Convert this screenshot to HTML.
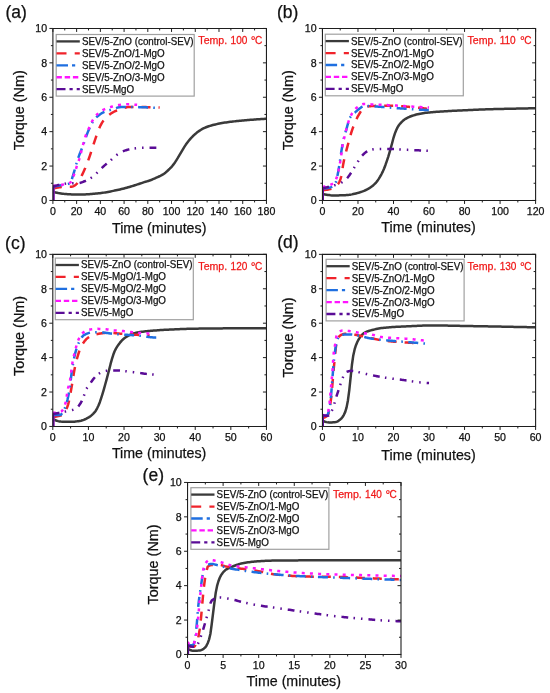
<!DOCTYPE html>
<html><head><meta charset="utf-8"><style>
html,body{margin:0;padding:0;background:#fff;}
svg{display:block;}
text{font-family:'Liberation Sans', Arial, sans-serif;fill:#111;stroke:#111;stroke-width:0.25px;}
.t{font-size:17.5px;}
.k{font-size:10.6px;}
.ax{font-size:14.8px;}
.ay{font-size:13.9px;}
.lg{font-size:10.1px;}
.tp{font-size:10.6px;fill:#f01818;stroke:#f01818;}
</style></head><body>
<svg width="550" height="693" viewBox="0 0 550 693">
<rect width="550" height="693" fill="#fff"/>
<text x="5.4" y="18" font-size="17.5" class="t">(a)</text>
<clipPath id="ca"><rect x="52.9" y="28.45" width="213.55" height="172"/></clipPath>
<g clip-path="url(#ca)" fill="none" stroke-width="2.5">
<path d="M52.9,191.85 L54.24,192.16 L55.59,192.45 L56.93,192.74 L58.27,193.01 L59.62,193.25 L60.96,193.47 L62.3,193.66 L63.64,193.81 L64.99,193.93 L66.33,194.03 L67.67,194.13 L69.02,194.22 L70.36,194.31 L71.7,194.39 L73.05,194.45 L74.39,194.51 L75.73,194.55 L77.08,194.58 L78.42,194.6 L79.76,194.6 L81.1,194.57 L82.45,194.53 L83.79,194.47 L85.13,194.4 L86.48,194.31 L87.82,194.23 L89.16,194.14 L90.51,194.06 L91.85,193.96 L93.19,193.86 L94.54,193.74 L95.88,193.61 L97.22,193.48 L98.56,193.33 L99.91,193.18 L101.25,193.02 L102.59,192.83 L103.94,192.63 L105.28,192.41 L106.62,192.17 L107.97,191.92 L109.31,191.66 L110.65,191.4 L112,191.14 L113.34,190.87 L114.68,190.6 L116.02,190.31 L117.37,190.02 L118.71,189.72 L120.05,189.41 L121.4,189.09 L122.74,188.76 L124.08,188.42 L125.43,188.07 L126.77,187.7 L128.11,187.32 L129.46,186.93 L130.8,186.53 L132.14,186.13 L133.48,185.72 L134.83,185.3 L136.17,184.87 L137.51,184.43 L138.86,183.97 L140.2,183.52 L141.54,183.06 L142.89,182.61 L144.23,182.17 L145.57,181.74 L146.92,181.34 L148.26,180.93 L149.6,180.49 L150.94,180 L152.29,179.47 L153.63,178.9 L154.97,178.3 L156.32,177.7 L157.66,177.1 L159,176.5 L160.35,175.88 L161.69,175.2 L163.03,174.43 L164.38,173.52 L165.72,172.44 L167.06,171.25 L168.41,169.99 L169.75,168.7 L171.09,167.32 L172.43,165.8 L173.78,164.11 L175.12,162.17 L176.46,160.08 L177.81,157.94 L179.15,155.69 L180.49,153.37 L181.84,151.1 L183.18,148.86 L184.52,146.65 L185.87,144.59 L187.21,142.73 L188.55,141.01 L189.89,139.41 L191.24,137.92 L192.58,136.51 L193.92,135.18 L195.27,133.97 L196.61,132.86 L197.95,131.83 L199.3,130.86 L200.64,129.97 L201.98,129.18 L203.33,128.48 L204.67,127.84 L206.01,127.26 L207.35,126.73 L208.7,126.26 L210.04,125.83 L211.38,125.44 L212.73,125.08 L214.07,124.74 L215.41,124.42 L216.76,124.11 L218.1,123.81 L219.44,123.53 L220.79,123.26 L222.13,123.02 L223.47,122.8 L224.81,122.59 L226.16,122.4 L227.5,122.21 L228.84,122.03 L230.19,121.86 L231.53,121.69 L232.87,121.53 L234.22,121.37 L235.56,121.23 L236.9,121.08 L238.25,120.95 L239.59,120.81 L240.93,120.68 L242.27,120.55 L243.62,120.42 L244.96,120.3 L246.3,120.18 L247.65,120.06 L248.99,119.95 L250.33,119.84 L251.68,119.73 L253.02,119.63 L254.36,119.53 L255.71,119.43 L257.05,119.34 L258.39,119.24 L259.73,119.15 L261.08,119.07 L262.42,118.98 L263.76,118.9 L265.11,118.82 L266.45,118.75" stroke="#3a3a3a" stroke-linejoin="round"/>
<path d="M53.1,202.17 V188.41" stroke="#f0232b" stroke-width="2.6"/>
<path d="M52.9,188.41 L53.57,188.28 L54.24,188.14 L54.91,188.02 L55.59,187.9 L56.26,187.78 L56.93,187.66 L57.6,187.56 L58.27,187.45 L58.94,187.36 L59.62,187.27 L60.29,187.19 L60.96,187.11 L61.63,187.05 L62.3,186.99 L62.97,186.94 L63.64,186.9 L64.32,186.87 L64.99,186.84 L65.66,186.82 L66.33,186.81 L67,186.8 L67.67,186.79 L68.35,186.78 L69.02,186.77 L69.69,186.76 L70.36,186.74 L71.03,186.72 L71.7,186.69 L72.37,186.58 L73.05,186.36 L73.72,186.04 L74.39,185.63 L75.06,185.17 L75.73,184.66 L76.4,184.12 L77.08,183.53 L77.75,182.76 L78.42,181.82 L79.09,180.74 L79.76,179.55 L80.43,178.27 L81.1,176.92 L81.78,175.53 L82.45,174.13 L83.12,172.73 L83.79,171.32 L84.46,169.83 L85.13,168.26 L85.81,166.63 L86.48,164.93 L87.15,163.18 L87.82,161.4 L88.49,159.59 L89.16,157.75 L89.83,155.83 L90.51,153.81 L91.18,151.72 L91.85,149.59 L92.52,147.45 L93.19,145.33 L93.86,143.27 L94.54,141.29 L95.21,139.38 L95.88,137.46 L96.55,135.53 L97.22,133.61 L97.89,131.75 L98.56,129.95 L99.24,128.26 L99.91,126.7 L100.58,125.29 L101.25,124.06 L101.92,122.91 L102.59,121.84 L103.27,120.84 L103.94,119.92 L104.61,119.08 L105.28,118.32 L105.95,117.64 L106.62,116.99 L107.29,116.38 L107.97,115.8 L108.64,115.25 L109.31,114.73 L109.98,114.23 L110.65,113.76 L111.32,113.31 L112,112.89 L112.67,112.49 L113.34,112.11 L114.01,111.75 L114.68,111.42 L115.35,111.1 L116.02,110.81 L116.7,110.53 L117.37,110.28 L118.04,110.03 L118.71,109.8 L119.38,109.58 L120.05,109.36 L120.73,109.13 L121.4,108.9 L122.07,108.66 L122.74,108.43 L123.41,108.21 L124.08,107.99 L124.75,107.78 L125.43,107.59 L126.1,107.41 L126.77,107.26 L127.44,107.13 L128.11,107.02 L128.78,106.94 L129.46,106.89 L130.13,106.88 L130.8,106.88 L131.47,106.88 L132.14,106.88 L132.81,106.88 L133.48,106.88 L134.16,106.88 L134.83,106.88 L135.5,106.88 L136.17,106.88 L136.84,106.88 L137.51,106.88 L138.19,106.89 L138.86,106.89 L139.53,106.9 L140.2,106.92 L140.87,106.93 L141.54,106.95 L142.21,106.97 L142.89,106.99 L143.56,107.01 L144.23,107.04 L144.9,107.06 L145.57,107.08 L146.24,107.11 L146.92,107.13 L147.59,107.16 L148.26,107.18 L148.93,107.2 L149.6,107.22 L150.27,107.24 L150.94,107.26 L151.62,107.29 L152.29,107.31 L152.96,107.33 L153.63,107.35 L154.3,107.38 L154.97,107.4 L155.65,107.42 L156.32,107.45 L156.99,107.47 L157.66,107.49 L158.33,107.52 L159,107.54 L159.67,107.57" stroke="#f0232b" stroke-dasharray="9 8" stroke-linejoin="round"/>
<path d="M53.1,202.17 V186.69" stroke="#1f6fe0" stroke-width="2.6"/>
<path d="M52.9,186.69 L53.57,186.58 L54.24,186.47 L54.91,186.36 L55.59,186.25 L56.26,186.13 L56.93,186.01 L57.6,185.89 L58.27,185.77 L58.94,185.64 L59.62,185.51 L60.29,185.38 L60.96,185.25 L61.63,185.12 L62.3,184.99 L62.97,184.86 L63.64,184.75 L64.32,184.66 L64.99,184.56 L65.66,184.47 L66.33,184.36 L67,184.24 L67.67,184.09 L68.35,183.91 L69.02,183.7 L69.69,183.44 L70.36,183.03 L71.03,181.73 L71.7,179.72 L72.37,177.46 L73.05,175.38 L73.72,173.24 L74.39,170.95 L75.06,168.56 L75.73,166.14 L76.4,163.77 L77.08,161.49 L77.75,159.37 L78.42,157.42 L79.09,155.58 L79.76,153.81 L80.43,152.09 L81.1,150.4 L81.78,148.69 L82.45,146.97 L83.12,145.18 L83.79,143.31 L84.46,141.37 L85.13,139.4 L85.81,137.45 L86.48,135.56 L87.15,133.76 L87.82,132.1 L88.49,130.58 L89.16,129.06 L89.83,127.57 L90.51,126.12 L91.18,124.72 L91.85,123.4 L92.52,122.17 L93.19,121.05 L93.86,120.05 L94.54,119.19 L95.21,118.47 L95.88,117.79 L96.55,117.15 L97.22,116.54 L97.89,115.97 L98.56,115.43 L99.24,114.91 L99.91,114.43 L100.58,113.98 L101.25,113.55 L101.92,113.15 L102.59,112.78 L103.27,112.43 L103.94,112.11 L104.61,111.81 L105.28,111.53 L105.95,111.28 L106.62,111.04 L107.29,110.83 L107.97,110.63 L108.64,110.44 L109.31,110.26 L109.98,110.08 L110.65,109.91 L111.32,109.72 L112,109.54 L112.67,109.34 L113.34,109.12 L114.01,108.87 L114.68,108.6 L115.35,108.33 L116.02,108.07 L116.7,107.82 L117.37,107.6 L118.04,107.42 L118.71,107.29 L119.38,107.21 L120.05,107.16 L120.73,107.11 L121.4,107.07 L122.07,107.03 L122.74,106.99 L123.41,106.96 L124.08,106.93 L124.75,106.91 L125.43,106.9 L126.1,106.89 L126.77,106.88 L127.44,106.88 L128.11,106.89 L128.78,106.89 L129.46,106.9 L130.13,106.91 L130.8,106.92 L131.47,106.93 L132.14,106.94 L132.81,106.96 L133.48,106.97 L134.16,106.99 L134.83,107.01 L135.5,107.02 L136.17,107.04 L136.84,107.06 L137.51,107.08 L138.19,107.1 L138.86,107.13 L139.53,107.15 L140.2,107.17 L140.87,107.19 L141.54,107.21 L142.21,107.23 L142.89,107.25 L143.56,107.27 L144.23,107.29 L144.9,107.32 L145.57,107.34 L146.24,107.37 L146.92,107.39 L147.59,107.42 L148.26,107.45 L148.93,107.47 L149.6,107.5 L150.27,107.53 L150.94,107.57 L151.62,107.6 L152.29,107.63 L152.96,107.66 L153.63,107.7 L154.3,107.74 L154.97,107.77 L155.65,107.81 L156.32,107.85 L156.99,107.89 L157.66,107.93 L158.33,107.98 L159,108.03 L159.67,108.09" stroke="#1f6fe0" stroke-dasharray="10 5.2 1.6 5.4" stroke-linejoin="round"/>
<path d="M53.1,202.17 V185.83" stroke="#ff14ff" stroke-width="2.6"/>
<path d="M52.9,185.83 L53.43,185.81 L53.96,185.79 L54.49,185.76 L55.02,185.72 L55.55,185.68 L56.08,185.63 L56.61,185.58 L57.14,185.52 L57.67,185.45 L58.2,185.38 L58.73,185.31 L59.26,185.23 L59.79,185.15 L60.32,185.07 L60.85,184.99 L61.38,184.9 L61.91,184.81 L62.44,184.72 L62.97,184.63 L63.5,184.54 L64.03,184.45 L64.55,184.36 L65.08,184.26 L65.61,184.16 L66.14,184.04 L66.67,183.92 L67.2,183.77 L67.73,183.62 L68.26,183.44 L68.79,183.24 L69.32,183.01 L69.85,182.76 L70.38,182.46 L70.91,181.87 L71.44,180.98 L71.97,179.86 L72.5,178.59 L73.03,177.24 L73.56,175.88 L74.09,174.54 L74.62,173.03 L75.15,171.4 L75.68,169.71 L76.21,168.02 L76.74,166.41 L77.27,164.87 L77.8,163.37 L78.33,161.86 L78.86,160.3 L79.39,158.64 L79.92,156.83 L80.45,154.83 L80.98,152.71 L81.51,150.55 L82.04,148.42 L82.57,146.41 L83.1,144.47 L83.63,142.53 L84.16,140.61 L84.69,138.77 L85.22,137.03 L85.75,135.45 L86.28,134.04 L86.81,132.77 L87.34,131.61 L87.86,130.51 L88.39,129.42 L88.92,128.3 L89.45,127.12 L89.98,125.9 L90.51,124.67 L91.04,123.46 L91.57,122.31 L92.1,121.25 L92.63,120.32 L93.16,119.47 L93.69,118.67 L94.22,117.9 L94.75,117.18 L95.28,116.49 L95.81,115.84 L96.34,115.24 L96.87,114.67 L97.4,114.15 L97.93,113.66 L98.46,113.19 L98.99,112.74 L99.52,112.31 L100.05,111.9 L100.58,111.51 L101.11,111.13 L101.64,110.77 L102.17,110.44 L102.7,110.12 L103.23,109.82 L103.76,109.54 L104.29,109.28 L104.82,109.04 L105.35,108.81 L105.88,108.59 L106.41,108.38 L106.94,108.18 L107.47,107.99 L108,107.81 L108.53,107.63 L109.06,107.46 L109.59,107.3 L110.12,107.14 L110.65,106.99 L111.17,106.84 L111.7,106.69 L112.23,106.54 L112.76,106.4 L113.29,106.25 L113.82,106.11 L114.35,105.98 L114.88,105.84 L115.41,105.71 L115.94,105.59 L116.47,105.47 L117,105.36 L117.53,105.26 L118.06,105.16 L118.59,105.08 L119.12,105 L119.65,104.93 L120.18,104.86 L120.71,104.8 L121.24,104.73 L121.77,104.66 L122.3,104.6 L122.83,104.54 L123.36,104.49 L123.89,104.44 L124.42,104.4 L124.95,104.36 L125.48,104.33 L126.01,104.31 L126.54,104.3 L127.07,104.3 L127.6,104.31 L128.13,104.32 L128.66,104.33 L129.19,104.35 L129.72,104.37 L130.25,104.4 L130.78,104.43 L131.31,104.46 L131.84,104.49 L132.37,104.52 L132.9,104.55 L133.43,104.58 L133.95,104.61 L134.48,104.64 L135.01,104.67 L135.54,104.71 L136.07,104.74 L136.6,104.78 L137.13,104.82" stroke="#ff14ff" stroke-dasharray="3 5.2" stroke-linejoin="round"/>
<path d="M53.1,202.17 V186.69" stroke="#5a0c96" stroke-width="2.6"/>
<path d="M52.9,186.69 L53.57,186.45 L54.24,186.22 L54.91,186 L55.59,185.78 L56.26,185.57 L56.93,185.37 L57.6,185.19 L58.27,185.01 L58.94,184.85 L59.62,184.7 L60.29,184.58 L60.96,184.45 L61.63,184.32 L62.3,184.19 L62.97,184.07 L63.64,183.94 L64.32,183.83 L64.99,183.72 L65.66,183.62 L66.33,183.52 L67,183.44 L67.67,183.37 L68.35,183.32 L69.02,183.28 L69.69,183.26 L70.36,183.25 L71.03,183.25 L71.7,183.25 L72.37,183.25 L73.05,183.25 L73.72,183.25 L74.39,183.25 L75.06,183.25 L75.73,183.25 L76.4,183.25 L77.08,183.25 L77.75,183.24 L78.42,183.19 L79.09,183.09 L79.76,182.94 L80.43,182.76 L81.1,182.55 L81.78,182.31 L82.45,182.06 L83.12,181.8 L83.79,181.53 L84.46,181.27 L85.13,181.02 L85.81,180.73 L86.48,180.42 L87.15,180.09 L87.82,179.73 L88.49,179.36 L89.16,178.96 L89.83,178.55 L90.51,178.13 L91.18,177.7 L91.85,177.23 L92.52,176.74 L93.19,176.21 L93.86,175.66 L94.54,175.08 L95.21,174.49 L95.88,173.89 L96.55,173.27 L97.22,172.65 L97.89,172.03 L98.56,171.4 L99.24,170.74 L99.91,170.05 L100.58,169.35 L101.25,168.64 L101.92,167.94 L102.59,167.25 L103.27,166.6 L103.94,165.99 L104.61,165.42 L105.28,164.87 L105.95,164.34 L106.62,163.82 L107.29,163.3 L107.97,162.78 L108.64,162.24 L109.31,161.67 L109.98,161.07 L110.65,160.42 L111.32,159.75 L112,159.08 L112.67,158.44 L113.34,157.83 L114.01,157.23 L114.68,156.63 L115.35,156.05 L116.02,155.5 L116.7,154.97 L117.37,154.49 L118.04,154.04 L118.71,153.59 L119.38,153.15 L120.05,152.74 L120.73,152.35 L121.4,151.99 L122.07,151.66 L122.74,151.37 L123.41,151.11 L124.08,150.87 L124.75,150.63 L125.43,150.41 L126.1,150.2 L126.77,150 L127.44,149.81 L128.11,149.63 L128.78,149.46 L129.46,149.31 L130.13,149.16 L130.8,149.03 L131.47,148.92 L132.14,148.82 L132.81,148.72 L133.48,148.62 L134.16,148.53 L134.83,148.44 L135.5,148.35 L136.17,148.27 L136.84,148.19 L137.51,148.12 L138.19,148.05 L138.86,147.99 L139.53,147.94 L140.2,147.9 L140.87,147.86 L141.54,147.83 L142.21,147.82 L142.89,147.8 L143.56,147.79 L144.23,147.78 L144.9,147.76 L145.57,147.75 L146.24,147.74 L146.92,147.73 L147.59,147.72 L148.26,147.71 L148.93,147.7 L149.6,147.69 L150.27,147.69 L150.94,147.68 L151.62,147.67 L152.29,147.67 L152.96,147.66 L153.63,147.66 L154.3,147.66 L154.97,147.65 L155.65,147.65 L156.32,147.65 L156.99,147.65 L157.66,147.65 L158.33,147.65 L159,147.65 L159.67,147.65" stroke="#5a0c96" stroke-dasharray="6.8 5.3 1.5 6 1.5 6" stroke-linejoin="round"/>
</g>
<g stroke="#1e1e1e" stroke-width="1.1" fill="none">
<path d="M52.9,28.45 H266.45 V200.45 H52.9 Z"/>
<path stroke-width="1.0" d="M52.9,200.45 v3.5 M52.9,28.45 v3.5 M64.76,200.45 v2 M64.76,28.45 v2 M76.63,200.45 v3.5 M76.63,28.45 v3.5 M88.49,200.45 v2 M88.49,28.45 v2 M100.36,200.45 v3.5 M100.36,28.45 v3.5 M112.22,200.45 v2 M112.22,28.45 v2 M124.08,200.45 v3.5 M124.08,28.45 v3.5 M135.95,200.45 v2 M135.95,28.45 v2 M147.81,200.45 v3.5 M147.81,28.45 v3.5 M159.67,200.45 v2 M159.67,28.45 v2 M171.54,200.45 v3.5 M171.54,28.45 v3.5 M183.4,200.45 v2 M183.4,28.45 v2 M195.27,200.45 v3.5 M195.27,28.45 v3.5 M207.13,200.45 v2 M207.13,28.45 v2 M218.99,200.45 v3.5 M218.99,28.45 v3.5 M230.86,200.45 v2 M230.86,28.45 v2 M242.72,200.45 v3.5 M242.72,28.45 v3.5 M254.59,200.45 v2 M254.59,28.45 v2 M266.45,200.45 v3.5 M266.45,28.45 v3.5 M52.9,200.45 h-3.5 M266.45,200.45 h-3.5 M52.9,183.25 h-2 M266.45,183.25 h-2 M52.9,166.05 h-3.5 M266.45,166.05 h-3.5 M52.9,148.85 h-2 M266.45,148.85 h-2 M52.9,131.65 h-3.5 M266.45,131.65 h-3.5 M52.9,114.45 h-2 M266.45,114.45 h-2 M52.9,97.25 h-3.5 M266.45,97.25 h-3.5 M52.9,80.05 h-2 M266.45,80.05 h-2 M52.9,62.85 h-3.5 M266.45,62.85 h-3.5 M52.9,45.65 h-2 M266.45,45.65 h-2 M52.9,28.45 h-3.5 M266.45,28.45 h-3.5"/>
</g>
<text x="52.9" y="214.75" class="k" text-anchor="middle">0</text>
<text x="76.63" y="214.75" class="k" text-anchor="middle">20</text>
<text x="100.36" y="214.75" class="k" text-anchor="middle">40</text>
<text x="124.08" y="214.75" class="k" text-anchor="middle">60</text>
<text x="147.81" y="214.75" class="k" text-anchor="middle">80</text>
<text x="171.54" y="214.75" class="k" text-anchor="middle">100</text>
<text x="195.27" y="214.75" class="k" text-anchor="middle">120</text>
<text x="218.99" y="214.75" class="k" text-anchor="middle">140</text>
<text x="242.72" y="214.75" class="k" text-anchor="middle">160</text>
<text x="266.45" y="214.75" class="k" text-anchor="middle">180</text>
<text x="47.1" y="204.25" class="k" text-anchor="end">0</text>
<text x="47.1" y="169.85" class="k" text-anchor="end">2</text>
<text x="47.1" y="135.45" class="k" text-anchor="end">4</text>
<text x="47.1" y="101.05" class="k" text-anchor="end">6</text>
<text x="47.1" y="66.65" class="k" text-anchor="end">8</text>
<text x="47.1" y="32.25" class="k" text-anchor="end">10</text>
<text x="159.17" y="232.5" class="ax" text-anchor="middle" textLength="94.4" lengthAdjust="spacingAndGlyphs">Time (minutes)</text>
<text transform="translate(23.7,110.2) rotate(-90)" class="ay" text-anchor="middle" textLength="80" lengthAdjust="spacingAndGlyphs">Torque (Nm)</text>
<rect x="56.2" y="34.5" width="138" height="61.6" fill="#fff" stroke="#a0a0a0" stroke-width="1.2"/>
<path d="M56.5,41.4 H79.8" stroke="#3a3a3a" stroke-width="2.3"/>
<text x="81.9" y="44.85" class="lg" textLength="111.64" lengthAdjust="spacingAndGlyphs">SEV/5-ZnO (control-SEV)</text>
<path d="M56.5,53.35 H79.8" stroke="#f0232b" stroke-width="2.3" stroke-dasharray="10 8.2"/>
<text x="81.9" y="56.8" class="lg" textLength="82.78" lengthAdjust="spacingAndGlyphs">SEV/5-ZnO/1-MgO</text>
<path d="M56.5,65.3 H79.8" stroke="#1f6fe0" stroke-width="2.3" stroke-dasharray="11.5 4 3.2 6"/>
<text x="81.9" y="68.75" class="lg" textLength="82.78" lengthAdjust="spacingAndGlyphs">SEV/5-ZnO/2-MgO</text>
<path d="M56.5,77.25 H79.8" stroke="#ff14ff" stroke-width="2.3" stroke-dasharray="5.4 2.8"/>
<text x="81.9" y="80.7" class="lg" textLength="82.78" lengthAdjust="spacingAndGlyphs">SEV/5-ZnO/3-MgO</text>
<path d="M56.5,89.2 H79.8" stroke="#5a0c96" stroke-width="2.3" stroke-dasharray="9 4 3.2 4 3.6 4"/>
<text x="81.9" y="92.65" class="lg" textLength="52.28" lengthAdjust="spacingAndGlyphs">SEV/5-MgO</text>
<text x="198.35" y="44.35" class="tp">Temp.</text><g transform="translate(266.45,0) scale(0.95,1) translate(-266.45,0)"><text y="44.35" class="tp"><tspan x="228.65">100</tspan><tspan x="250.05" dy="0.9" style="font-size:12.5px">°</tspan><tspan x="254.45" dy="-0.9">C</tspan></text></g>
<text x="277" y="18.2" font-size="17.5" class="t">(b)</text>
<clipPath id="cb"><rect x="322.45" y="28.45" width="213.15" height="172"/></clipPath>
<g clip-path="url(#cb)" fill="none" stroke-width="2.5">
<path d="M322.45,193.91 L323.79,194.19 L325.13,194.45 L326.47,194.7 L327.81,194.92 L329.15,195.11 L330.49,195.27 L331.83,195.38 L333.17,195.45 L334.52,195.46 L335.86,195.45 L337.2,195.43 L338.54,195.41 L339.88,195.37 L341.22,195.32 L342.56,195.26 L343.9,195.2 L345.24,195.13 L346.58,195.05 L347.92,194.96 L349.26,194.84 L350.6,194.64 L351.94,194.37 L353.28,194.06 L354.62,193.73 L355.96,193.41 L357.3,193.07 L358.65,192.69 L359.99,192.28 L361.33,191.83 L362.67,191.35 L364.01,190.82 L365.35,190.25 L366.69,189.62 L368.03,188.92 L369.37,188.16 L370.71,187.3 L372.05,186.32 L373.39,185.21 L374.73,183.95 L376.07,182.53 L377.41,180.86 L378.75,178.91 L380.09,176.7 L381.43,174.28 L382.78,171.63 L384.12,168.49 L385.46,164.94 L386.8,161.11 L388.14,157.06 L389.48,152.6 L390.82,147.92 L392.16,142.97 L393.5,137.8 L394.84,133.67 L396.18,130.23 L397.52,127.37 L398.86,125.27 L400.2,123.56 L401.54,122.08 L402.88,120.8 L404.22,119.71 L405.57,118.8 L406.91,118.04 L408.25,117.37 L409.59,116.78 L410.93,116.25 L412.27,115.77 L413.61,115.33 L414.95,114.93 L416.29,114.55 L417.63,114.22 L418.97,113.92 L420.31,113.67 L421.65,113.43 L422.99,113.21 L424.33,113.01 L425.67,112.82 L427.01,112.66 L428.35,112.52 L429.7,112.39 L431.04,112.26 L432.38,112.15 L433.72,112.04 L435.06,111.93 L436.4,111.83 L437.74,111.74 L439.08,111.65 L440.42,111.56 L441.76,111.48 L443.1,111.39 L444.44,111.31 L445.78,111.23 L447.12,111.15 L448.46,111.07 L449.8,111 L451.14,110.92 L452.48,110.85 L453.83,110.78 L455.17,110.71 L456.51,110.65 L457.85,110.58 L459.19,110.52 L460.53,110.46 L461.87,110.39 L463.21,110.33 L464.55,110.27 L465.89,110.21 L467.23,110.15 L468.57,110.09 L469.91,110.03 L471.25,109.97 L472.59,109.9 L473.93,109.84 L475.27,109.78 L476.62,109.73 L477.96,109.67 L479.3,109.61 L480.64,109.56 L481.98,109.5 L483.32,109.45 L484.66,109.4 L486,109.35 L487.34,109.31 L488.68,109.27 L490.02,109.23 L491.36,109.19 L492.7,109.15 L494.04,109.12 L495.38,109.08 L496.72,109.05 L498.06,109.02 L499.4,108.99 L500.75,108.96 L502.09,108.92 L503.43,108.89 L504.77,108.87 L506.11,108.84 L507.45,108.81 L508.79,108.78 L510.13,108.75 L511.47,108.72 L512.81,108.69 L514.15,108.66 L515.49,108.63 L516.83,108.61 L518.17,108.58 L519.51,108.55 L520.85,108.53 L522.19,108.5 L523.53,108.47 L524.88,108.45 L526.22,108.42 L527.56,108.4 L528.9,108.37 L530.24,108.35 L531.58,108.33 L532.92,108.3 L534.26,108.28 L535.6,108.26" stroke="#3a3a3a" stroke-linejoin="round"/>
<path d="M322.65,202.17 V190.13" stroke="#f0232b" stroke-width="2.6"/>
<path d="M322.45,190.13 L323.12,190.12 L323.79,190.09 L324.46,190.03 L325.13,189.97 L325.8,189.88 L326.47,189.78 L327.14,189.67 L327.81,189.54 L328.48,189.41 L329.15,189.27 L329.82,189.12 L330.49,188.95 L331.16,188.74 L331.83,188.49 L332.5,188.2 L333.17,187.86 L333.84,187.47 L334.52,187.04 L335.19,186.55 L335.86,186.02 L336.53,185.43 L337.2,184.79 L337.87,184.09 L338.54,183.34 L339.21,182.33 L339.88,180.81 L340.55,178.89 L341.22,176.33 L341.89,172.57 L342.56,168.27 L343.23,164.15 L343.9,160.8 L344.57,157.79 L345.24,154.95 L345.91,152.25 L346.58,149.65 L347.25,147.12 L347.92,144.63 L348.59,142.15 L349.26,139.7 L349.93,137.28 L350.6,134.94 L351.27,132.7 L351.94,130.57 L352.61,128.59 L353.28,126.77 L353.95,125.04 L354.62,123.38 L355.29,121.78 L355.96,120.26 L356.63,118.82 L357.3,117.46 L357.98,116.18 L358.65,114.99 L359.32,113.86 L359.99,112.75 L360.66,111.68 L361.33,110.7 L362,109.83 L362.67,109.14 L363.34,108.63 L364.01,108.2 L364.68,107.8 L365.35,107.44 L366.02,107.12 L366.69,106.84 L367.36,106.62 L368.03,106.46 L368.7,106.36 L369.37,106.29 L370.04,106.22 L370.71,106.16 L371.38,106.1 L372.05,106.05 L372.72,106 L373.39,105.96 L374.06,105.92 L374.73,105.9 L375.4,105.87 L376.07,105.86 L376.74,105.85 L377.41,105.85 L378.08,105.85 L378.75,105.85 L379.42,105.85 L380.09,105.85 L380.76,105.85 L381.43,105.85 L382.11,105.85 L382.78,105.85 L383.45,105.85 L384.12,105.85 L384.79,105.85 L385.46,105.85 L386.13,105.85 L386.8,105.85 L387.47,105.85 L388.14,105.85 L388.81,105.85 L389.48,105.85 L390.15,105.85 L390.82,105.85 L391.49,105.85 L392.16,105.85 L392.83,105.85 L393.5,105.85 L394.17,105.86 L394.84,105.87 L395.51,105.88 L396.18,105.9 L396.85,105.92 L397.52,105.95 L398.19,105.98 L398.86,106.02 L399.53,106.06 L400.2,106.1 L400.87,106.14 L401.54,106.19 L402.21,106.24 L402.88,106.3 L403.55,106.35 L404.22,106.41 L404.89,106.47 L405.57,106.53 L406.24,106.59 L406.91,106.65 L407.58,106.71 L408.25,106.78 L408.92,106.84 L409.59,106.91 L410.26,106.97 L410.93,107.04 L411.6,107.1 L412.27,107.17 L412.94,107.23 L413.61,107.29 L414.28,107.35 L414.95,107.41 L415.62,107.47 L416.29,107.53 L416.96,107.59 L417.63,107.66 L418.3,107.73 L418.97,107.79 L419.64,107.86 L420.31,107.93 L420.98,108.01 L421.65,108.08 L422.32,108.15 L422.99,108.23 L423.66,108.3 L424.33,108.38 L425,108.46 L425.67,108.54 L426.34,108.62 L427.01,108.7 L427.68,108.78 L428.35,108.86 L429.02,108.95" stroke="#f0232b" stroke-dasharray="9 8" stroke-linejoin="round"/>
<path d="M322.65,202.17 V188.41" stroke="#1f6fe0" stroke-width="2.6"/>
<path d="M322.45,188.41 L323.12,188.4 L323.79,188.38 L324.46,188.34 L325.13,188.29 L325.8,188.22 L326.47,188.14 L327.14,188.05 L327.81,187.94 L328.48,187.83 L329.15,187.7 L329.82,187.57 L330.49,187.39 L331.16,187.11 L331.83,186.72 L332.5,186.23 L333.17,185.63 L333.84,184.92 L334.52,184.11 L335.19,183.18 L335.86,182.05 L336.53,179.94 L337.2,176.97 L337.87,173.49 L338.54,169.9 L339.21,166.01 L339.88,161.47 L340.55,156.71 L341.22,152.2 L341.89,148.19 L342.56,144.36 L343.23,140.87 L343.9,137.91 L344.57,135.34 L345.24,133.01 L345.91,130.79 L346.58,128.56 L347.25,126.17 L347.92,123.72 L348.59,121.39 L349.26,119.35 L349.93,117.77 L350.6,116.71 L351.27,115.83 L351.94,115.08 L352.61,114.41 L353.28,113.82 L353.95,113.27 L354.62,112.73 L355.29,112.18 L355.96,111.59 L356.63,110.98 L357.3,110.39 L357.98,109.81 L358.65,109.26 L359.32,108.74 L359.99,108.26 L360.66,107.76 L361.33,107.23 L362,106.74 L362.67,106.32 L363.34,106.01 L364.01,105.86 L364.68,105.85 L365.35,105.86 L366.02,105.87 L366.69,105.89 L367.36,105.92 L368.03,105.95 L368.7,105.98 L369.37,106.02 L370.04,106.06 L370.71,106.11 L371.38,106.15 L372.05,106.2 L372.72,106.25 L373.39,106.3 L374.06,106.36 L374.73,106.41 L375.4,106.46 L376.07,106.51 L376.74,106.57 L377.41,106.62 L378.08,106.66 L378.75,106.71 L379.42,106.75 L380.09,106.8 L380.76,106.85 L381.43,106.9 L382.11,106.94 L382.78,106.99 L383.45,107.04 L384.12,107.1 L384.79,107.15 L385.46,107.2 L386.13,107.25 L386.8,107.31 L387.47,107.36 L388.14,107.42 L388.81,107.47 L389.48,107.53 L390.15,107.58 L390.82,107.64 L391.49,107.69 L392.16,107.75 L392.83,107.8 L393.5,107.86 L394.17,107.91 L394.84,107.97 L395.51,108.02 L396.18,108.07 L396.85,108.13 L397.52,108.18 L398.19,108.23 L398.86,108.28 L399.53,108.33 L400.2,108.38 L400.87,108.43 L401.54,108.48 L402.21,108.53 L402.88,108.58 L403.55,108.62 L404.22,108.67 L404.89,108.71 L405.57,108.76 L406.24,108.8 L406.91,108.84 L407.58,108.89 L408.25,108.93 L408.92,108.98 L409.59,109.02 L410.26,109.06 L410.93,109.1 L411.6,109.15 L412.27,109.19 L412.94,109.23 L413.61,109.27 L414.28,109.31 L414.95,109.36 L415.62,109.4 L416.29,109.44 L416.96,109.48 L417.63,109.52 L418.3,109.56 L418.97,109.6 L419.64,109.64 L420.31,109.67 L420.98,109.71 L421.65,109.75 L422.32,109.79 L422.99,109.83 L423.66,109.86 L424.33,109.9 L425,109.94 L425.67,109.97 L426.34,110.01 L427.01,110.05 L427.68,110.08 L428.35,110.12 L429.02,110.15" stroke="#1f6fe0" stroke-dasharray="10 5.2 1.6 5.4" stroke-linejoin="round"/>
<path d="M322.65,202.17 V186.86" stroke="#ff14ff" stroke-width="2.6"/>
<path d="M322.45,186.86 L323.12,186.79 L323.79,186.7 L324.46,186.58 L325.13,186.43 L325.8,186.27 L326.47,186.09 L327.14,185.9 L327.81,185.7 L328.48,185.49 L329.15,185.27 L329.82,185.04 L330.49,184.79 L331.16,184.5 L331.83,184.17 L332.5,183.79 L333.17,183.35 L333.84,182.84 L334.52,182.2 L335.19,181.15 L335.86,179.74 L336.53,178.06 L337.2,176.17 L337.87,173.7 L338.54,170.67 L339.21,167.33 L339.88,163.72 L340.55,159.62 L341.22,155.24 L341.89,150.52 L342.56,145.47 L343.23,141.77 L343.9,138.97 L344.57,136.46 L345.24,133.79 L345.91,130.99 L346.58,128.25 L347.25,125.76 L347.92,123.46 L348.59,121.31 L349.26,119.4 L349.93,117.75 L350.6,116.23 L351.27,114.85 L351.94,113.64 L352.61,112.58 L353.28,111.6 L353.95,110.67 L354.62,109.81 L355.29,109.03 L355.96,108.33 L356.63,107.74 L357.3,107.25 L357.98,106.78 L358.65,106.32 L359.32,105.88 L359.99,105.47 L360.66,105.08 L361.33,104.74 L362,104.45 L362.67,104.22 L363.34,104.06 L364.01,103.97 L364.68,103.96 L365.35,103.97 L366.02,104 L366.69,104.03 L367.36,104.07 L368.03,104.12 L368.7,104.17 L369.37,104.22 L370.04,104.27 L370.71,104.33 L371.38,104.38 L372.05,104.42 L372.72,104.46 L373.39,104.5 L374.06,104.53 L374.73,104.56 L375.4,104.59 L376.07,104.62 L376.74,104.65 L377.41,104.68 L378.08,104.71 L378.75,104.74 L379.42,104.76 L380.09,104.79 L380.76,104.82 L381.43,104.84 L382.11,104.87 L382.78,104.9 L383.45,104.92 L384.12,104.95 L384.79,104.98 L385.46,105.01 L386.13,105.03 L386.8,105.06 L387.47,105.09 L388.14,105.13 L388.81,105.16 L389.48,105.19 L390.15,105.23 L390.82,105.26 L391.49,105.3 L392.16,105.33 L392.83,105.37 L393.5,105.41 L394.17,105.45 L394.84,105.48 L395.51,105.52 L396.18,105.56 L396.85,105.6 L397.52,105.64 L398.19,105.69 L398.86,105.73 L399.53,105.77 L400.2,105.81 L400.87,105.85 L401.54,105.9 L402.21,105.94 L402.88,105.98 L403.55,106.03 L404.22,106.07 L404.89,106.11 L405.57,106.16 L406.24,106.2 L406.91,106.24 L407.58,106.29 L408.25,106.33 L408.92,106.37 L409.59,106.42 L410.26,106.46 L410.93,106.51 L411.6,106.55 L412.27,106.59 L412.94,106.63 L413.61,106.68 L414.28,106.72 L414.95,106.76 L415.62,106.8 L416.29,106.84 L416.96,106.89 L417.63,106.93 L418.3,106.97 L418.97,107.01 L419.64,107.05 L420.31,107.08 L420.98,107.12 L421.65,107.16 L422.32,107.2 L422.99,107.24 L423.66,107.27 L424.33,107.31 L425,107.35 L425.67,107.39 L426.34,107.42 L427.01,107.46 L427.68,107.5 L428.35,107.53 L429.02,107.57" stroke="#ff14ff" stroke-dasharray="3 5.2" stroke-linejoin="round"/>
<path d="M322.65,202.17 V188.41" stroke="#5a0c96" stroke-width="2.6"/>
<path d="M322.45,188.41 L323.12,188.25 L323.79,188.08 L324.46,187.91 L325.13,187.74 L325.8,187.57 L326.47,187.4 L327.14,187.22 L327.81,187.04 L328.48,186.86 L329.15,186.69 L329.82,186.51 L330.49,186.34 L331.16,186.17 L331.83,186.01 L332.5,185.84 L333.17,185.66 L333.84,185.48 L334.52,185.3 L335.19,185.11 L335.86,184.91 L336.53,184.69 L337.2,184.47 L337.87,184.23 L338.54,183.97 L339.21,183.69 L339.88,183.39 L340.55,183.07 L341.22,182.72 L341.89,182.34 L342.56,181.94 L343.23,181.5 L343.9,181.04 L344.57,180.55 L345.24,180.03 L345.91,179.47 L346.58,178.82 L347.25,178.07 L347.92,177.24 L348.59,176.35 L349.26,175.41 L349.93,174.45 L350.6,173.49 L351.27,172.51 L351.94,171.48 L352.61,170.39 L353.28,169.26 L353.95,168.11 L354.62,166.95 L355.29,165.81 L355.96,164.69 L356.63,163.62 L357.3,162.58 L357.98,161.51 L358.65,160.45 L359.32,159.4 L359.99,158.4 L360.66,157.45 L361.33,156.57 L362,155.8 L362.67,155.09 L363.34,154.41 L364.01,153.76 L364.68,153.15 L365.35,152.59 L366.02,152.1 L366.69,151.69 L367.36,151.37 L368.03,151.07 L368.7,150.79 L369.37,150.52 L370.04,150.26 L370.71,150.01 L371.38,149.79 L372.05,149.59 L372.72,149.41 L373.39,149.26 L374.06,149.15 L374.73,149.07 L375.4,149.03 L376.07,149.02 L376.74,149.02 L377.41,149.02 L378.08,149.02 L378.75,149.02 L379.42,149.02 L380.09,149.02 L380.76,149.02 L381.43,149.02 L382.11,149.02 L382.78,149.02 L383.45,149.02 L384.12,149.02 L384.79,149.02 L385.46,149.02 L386.13,149.02 L386.8,149.02 L387.47,149.02 L388.14,149.02 L388.81,149.02 L389.48,149.02 L390.15,149.02 L390.82,149.02 L391.49,149.02 L392.16,149.03 L392.83,149.03 L393.5,149.05 L394.17,149.07 L394.84,149.1 L395.51,149.13 L396.18,149.17 L396.85,149.21 L397.52,149.25 L398.19,149.29 L398.86,149.34 L399.53,149.38 L400.2,149.43 L400.87,149.48 L401.54,149.52 L402.21,149.57 L402.88,149.61 L403.55,149.65 L404.22,149.69 L404.89,149.72 L405.57,149.75 L406.24,149.78 L406.91,149.81 L407.58,149.85 L408.25,149.88 L408.92,149.91 L409.59,149.93 L410.26,149.96 L410.93,149.99 L411.6,150.02 L412.27,150.05 L412.94,150.08 L413.61,150.11 L414.28,150.14 L414.95,150.17 L415.62,150.2 L416.29,150.23 L416.96,150.26 L417.63,150.29 L418.3,150.32 L418.97,150.36 L419.64,150.39 L420.31,150.42 L420.98,150.46 L421.65,150.49 L422.32,150.53 L422.99,150.57 L423.66,150.6 L424.33,150.64 L425,150.68 L425.67,150.72 L426.34,150.76 L427.01,150.8 L427.68,150.83 L428.35,150.87 L429.02,150.91" stroke="#5a0c96" stroke-dasharray="6.8 5.3 1.5 6 1.5 6" stroke-linejoin="round"/>
</g>
<g stroke="#1e1e1e" stroke-width="1.1" fill="none">
<path d="M322.45,28.45 H535.6 V200.45 H322.45 Z"/>
<path stroke-width="1.0" d="M322.45,200.45 v3.5 M322.45,28.45 v3.5 M340.21,200.45 v2 M340.21,28.45 v2 M357.98,200.45 v3.5 M357.98,28.45 v3.5 M375.74,200.45 v2 M375.74,28.45 v2 M393.5,200.45 v3.5 M393.5,28.45 v3.5 M411.26,200.45 v2 M411.26,28.45 v2 M429.02,200.45 v3.5 M429.02,28.45 v3.5 M446.79,200.45 v2 M446.79,28.45 v2 M464.55,200.45 v3.5 M464.55,28.45 v3.5 M482.31,200.45 v2 M482.31,28.45 v2 M500.08,200.45 v3.5 M500.08,28.45 v3.5 M517.84,200.45 v2 M517.84,28.45 v2 M535.6,200.45 v3.5 M535.6,28.45 v3.5 M322.45,200.45 h-3.5 M535.6,200.45 h-3.5 M322.45,183.25 h-2 M535.6,183.25 h-2 M322.45,166.05 h-3.5 M535.6,166.05 h-3.5 M322.45,148.85 h-2 M535.6,148.85 h-2 M322.45,131.65 h-3.5 M535.6,131.65 h-3.5 M322.45,114.45 h-2 M535.6,114.45 h-2 M322.45,97.25 h-3.5 M535.6,97.25 h-3.5 M322.45,80.05 h-2 M535.6,80.05 h-2 M322.45,62.85 h-3.5 M535.6,62.85 h-3.5 M322.45,45.65 h-2 M535.6,45.65 h-2 M322.45,28.45 h-3.5 M535.6,28.45 h-3.5"/>
</g>
<text x="322.45" y="214.75" class="k" text-anchor="middle">0</text>
<text x="357.98" y="214.75" class="k" text-anchor="middle">20</text>
<text x="393.5" y="214.75" class="k" text-anchor="middle">40</text>
<text x="429.02" y="214.75" class="k" text-anchor="middle">60</text>
<text x="464.55" y="214.75" class="k" text-anchor="middle">80</text>
<text x="500.08" y="214.75" class="k" text-anchor="middle">100</text>
<text x="535.6" y="214.75" class="k" text-anchor="middle">120</text>
<text x="316.65" y="204.25" class="k" text-anchor="end">0</text>
<text x="316.65" y="169.85" class="k" text-anchor="end">2</text>
<text x="316.65" y="135.45" class="k" text-anchor="end">4</text>
<text x="316.65" y="101.05" class="k" text-anchor="end">6</text>
<text x="316.65" y="66.65" class="k" text-anchor="end">8</text>
<text x="316.65" y="32.25" class="k" text-anchor="end">10</text>
<text x="428.52" y="232.2" class="ax" text-anchor="middle" textLength="94.4" lengthAdjust="spacingAndGlyphs">Time (minutes)</text>
<text transform="translate(293.25,110.3) rotate(-90)" class="ay" text-anchor="middle" textLength="80" lengthAdjust="spacingAndGlyphs">Torque (Nm)</text>
<rect x="325.3" y="34.2" width="138" height="61.6" fill="#fff" stroke="#a0a0a0" stroke-width="1.2"/>
<path d="M325.6,41.1 H348.9" stroke="#3a3a3a" stroke-width="2.3"/>
<text x="351" y="44.55" class="lg" textLength="111.64" lengthAdjust="spacingAndGlyphs">SEV/5-ZnO (control-SEV)</text>
<path d="M325.6,53.05 H348.9" stroke="#f0232b" stroke-width="2.3" stroke-dasharray="10 8.2"/>
<text x="351" y="56.5" class="lg" textLength="82.78" lengthAdjust="spacingAndGlyphs">SEV/5-ZnO/1-MgO</text>
<path d="M325.6,65 H348.9" stroke="#1f6fe0" stroke-width="2.3" stroke-dasharray="11.5 4 3.2 6"/>
<text x="351" y="68.45" class="lg" textLength="82.78" lengthAdjust="spacingAndGlyphs">SEV/5-ZnO/2-MgO</text>
<path d="M325.6,76.95 H348.9" stroke="#ff14ff" stroke-width="2.3" stroke-dasharray="5.4 2.8"/>
<text x="351" y="80.4" class="lg" textLength="82.78" lengthAdjust="spacingAndGlyphs">SEV/5-ZnO/3-MgO</text>
<path d="M325.6,88.9 H348.9" stroke="#5a0c96" stroke-width="2.3" stroke-dasharray="9 4 3.2 4 3.6 4"/>
<text x="351" y="92.35" class="lg" textLength="52.28" lengthAdjust="spacingAndGlyphs">SEV/5-MgO</text>
<text x="467.5" y="44.35" class="tp">Temp.</text><g transform="translate(535.6,0) scale(0.95,1) translate(-535.6,0)"><text y="44.35" class="tp"><tspan x="497.8">110</tspan><tspan x="519.2" dy="0.9" style="font-size:12.5px">°</tspan><tspan x="523.6" dy="-0.9">C</tspan></text></g>
<text x="5.1" y="248.8" font-size="17.5" class="t">(c)</text>
<clipPath id="cc"><rect x="52.8" y="254.35" width="213.65" height="172.1"/></clipPath>
<g clip-path="url(#cc)" fill="none" stroke-width="2.5">
<path d="M52.8,419.22 L54.14,419.76 L55.49,420.28 L56.83,420.75 L58.17,421.14 L59.52,421.43 L60.86,421.6 L62.21,421.66 L63.55,421.7 L64.89,421.73 L66.24,421.76 L67.58,421.78 L68.92,421.8 L70.27,421.8 L71.61,421.8 L72.96,421.75 L74.3,421.65 L75.64,421.51 L76.99,421.34 L78.33,421.14 L79.67,420.93 L81.02,420.69 L82.36,420.33 L83.71,419.85 L85.05,419.27 L86.39,418.6 L87.74,417.88 L89.08,417.1 L90.42,416.19 L91.77,415.12 L93.11,413.87 L94.46,412.42 L95.8,410.63 L97.14,408.26 L98.49,405.45 L99.83,402.21 L101.17,398.21 L102.52,393.9 L103.86,389.32 L105.2,384.5 L106.55,379.56 L107.89,374.48 L109.24,369.31 L110.58,363.94 L111.92,359.11 L113.27,354.78 L114.61,351.29 L115.95,348.61 L117.3,346.37 L118.64,344.44 L119.99,342.68 L121.33,341.09 L122.67,339.71 L124.02,338.57 L125.36,337.57 L126.7,336.66 L128.05,335.85 L129.39,335.15 L130.74,334.54 L132.08,334.02 L133.42,333.55 L134.77,333.13 L136.11,332.77 L137.45,332.46 L138.8,332.22 L140.14,332.01 L141.48,331.82 L142.83,331.65 L144.17,331.5 L145.52,331.36 L146.86,331.22 L148.2,331.1 L149.55,330.98 L150.89,330.86 L152.23,330.74 L153.58,330.62 L154.92,330.51 L156.27,330.41 L157.61,330.31 L158.95,330.21 L160.3,330.12 L161.64,330.03 L162.98,329.94 L164.33,329.86 L165.67,329.79 L167.02,329.72 L168.36,329.65 L169.7,329.58 L171.05,329.51 L172.39,329.44 L173.73,329.38 L175.08,329.31 L176.42,329.25 L177.77,329.19 L179.11,329.13 L180.45,329.08 L181.8,329.02 L183.14,328.97 L184.48,328.93 L185.83,328.88 L187.17,328.84 L188.51,328.8 L189.86,328.77 L191.2,328.74 L192.55,328.71 L193.89,328.69 L195.23,328.67 L196.58,328.65 L197.92,328.63 L199.26,328.61 L200.61,328.59 L201.95,328.58 L203.3,328.56 L204.64,328.54 L205.98,328.53 L207.33,328.51 L208.67,328.49 L210.01,328.48 L211.36,328.47 L212.7,328.45 L214.05,328.44 L215.39,328.43 L216.73,328.42 L218.08,328.41 L219.42,328.4 L220.76,328.39 L222.11,328.38 L223.45,328.37 L224.79,328.37 L226.14,328.36 L227.48,328.36 L228.83,328.36 L230.17,328.35 L231.51,328.35 L232.86,328.35 L234.2,328.35 L235.54,328.35 L236.89,328.35 L238.23,328.35 L239.58,328.35 L240.92,328.35 L242.26,328.35 L243.61,328.35 L244.95,328.35 L246.29,328.35 L247.64,328.35 L248.98,328.35 L250.33,328.35 L251.67,328.35 L253.01,328.35 L254.36,328.35 L255.7,328.35 L257.04,328.35 L258.39,328.35 L259.73,328.35 L261.08,328.35 L262.42,328.35 L263.76,328.35 L265.11,328.35 L266.45,328.35" stroke="#3a3a3a" stroke-linejoin="round"/>
<path d="M53,428.17 V416.98" stroke="#f0232b" stroke-width="2.6"/>
<path d="M52.8,416.98 L53.41,416.94 L54.02,416.88 L54.63,416.8 L55.24,416.71 L55.85,416.6 L56.45,416.48 L57.06,416.36 L57.67,416.22 L58.28,416.09 L58.89,415.94 L59.5,415.8 L60.11,415.64 L60.72,415.46 L61.33,415.26 L61.94,415.01 L62.55,414.73 L63.16,414.39 L63.76,413.87 L64.37,413.11 L64.98,412.13 L65.59,410.95 L66.2,409.61 L66.81,408.13 L67.42,406.54 L68.03,404.81 L68.64,402.54 L69.25,399.79 L69.86,396.68 L70.47,393.37 L71.07,389.97 L71.68,386.63 L72.29,383.13 L72.9,379.3 L73.51,375.4 L74.12,371.66 L74.73,368.32 L75.34,365.45 L75.95,362.78 L76.56,360.29 L77.17,357.99 L77.78,355.86 L78.38,353.89 L78.99,352 L79.6,350.21 L80.21,348.58 L80.82,347.16 L81.43,346 L82.04,344.96 L82.65,343.97 L83.26,343.03 L83.87,342.15 L84.48,341.33 L85.08,340.57 L85.69,339.86 L86.3,339.22 L86.91,338.63 L87.52,338.11 L88.13,337.66 L88.74,337.26 L89.35,336.89 L89.96,336.54 L90.57,336.21 L91.18,335.9 L91.79,335.62 L92.39,335.35 L93,335.11 L93.61,334.9 L94.22,334.7 L94.83,334.54 L95.44,334.4 L96.05,334.27 L96.66,334.15 L97.27,334.03 L97.88,333.92 L98.49,333.81 L99.1,333.7 L99.7,333.6 L100.31,333.5 L100.92,333.4 L101.53,333.32 L102.14,333.23 L102.75,333.16 L103.36,333.09 L103.97,333.03 L104.58,332.97 L105.19,332.93 L105.8,332.89 L106.41,332.86 L107.01,332.84 L107.62,332.83 L108.23,332.83 L108.84,332.83 L109.45,332.84 L110.06,332.86 L110.67,332.88 L111.28,332.91 L111.89,332.94 L112.5,332.98 L113.11,333.02 L113.71,333.06 L114.32,333.11 L114.93,333.16 L115.54,333.21 L116.15,333.26 L116.76,333.32 L117.37,333.38 L117.98,333.44 L118.59,333.5 L119.2,333.56 L119.81,333.62 L120.42,333.68 L121.02,333.74 L121.63,333.8 L122.24,333.85 L122.85,333.91 L123.46,333.97 L124.07,334.02 L124.68,334.07 L125.29,334.12 L125.9,334.16 L126.51,334.2 L127.12,334.24 L127.73,334.28 L128.33,334.32 L128.94,334.36 L129.55,334.39 L130.16,334.43 L130.77,334.46 L131.38,334.5 L131.99,334.53 L132.6,334.57 L133.21,334.6 L133.82,334.64 L134.43,334.67 L135.04,334.71 L135.64,334.74 L136.25,334.78 L136.86,334.81 L137.47,334.85 L138.08,334.88 L138.69,334.92 L139.3,334.95 L139.91,334.99 L140.52,335.03 L141.13,335.06 L141.74,335.1 L142.34,335.14 L142.95,335.17 L143.56,335.21 L144.17,335.25 L144.78,335.28 L145.39,335.32 L146,335.36 L146.61,335.4 L147.22,335.43 L147.83,335.47 L148.44,335.51 L149.05,335.54 L149.65,335.58" stroke="#f0232b" stroke-dasharray="9 8" stroke-linejoin="round"/>
<path d="M53,428.17 V414.92" stroke="#1f6fe0" stroke-width="2.6"/>
<path d="M52.8,414.92 L53.47,414.96 L54.14,415 L54.82,415.03 L55.49,415.05 L56.16,415.07 L56.83,415.08 L57.5,415.08 L58.17,415.09 L58.85,415.09 L59.52,415.09 L60.19,415.06 L60.86,414.73 L61.53,414.08 L62.21,413.18 L62.88,412.08 L63.55,410.85 L64.22,409.55 L64.89,408.17 L65.57,406.47 L66.24,404.43 L66.91,402.04 L67.58,399.34 L68.25,396.33 L68.92,393.03 L69.6,389.45 L70.27,384.41 L70.94,378.3 L71.61,372.82 L72.28,368.5 L72.96,364.42 L73.63,360.62 L74.3,357.18 L74.97,354.14 L75.64,351.57 L76.31,349.32 L76.99,347.28 L77.66,345.42 L78.33,343.74 L79,342.24 L79.67,340.91 L80.35,339.71 L81.02,338.56 L81.69,337.5 L82.36,336.57 L83.03,335.81 L83.71,335.28 L84.38,334.91 L85.05,334.56 L85.72,334.23 L86.39,333.92 L87.06,333.63 L87.74,333.36 L88.41,333.13 L89.08,332.92 L89.75,332.73 L90.42,332.58 L91.1,332.46 L91.77,332.38 L92.44,332.33 L93.11,332.31 L93.78,332.31 L94.46,332.31 L95.13,332.31 L95.8,332.31 L96.47,332.31 L97.14,332.31 L97.81,332.31 L98.49,332.31 L99.16,332.31 L99.83,332.32 L100.5,332.34 L101.17,332.37 L101.85,332.41 L102.52,332.46 L103.19,332.52 L103.86,332.58 L104.53,332.65 L105.2,332.73 L105.88,332.82 L106.55,332.91 L107.22,333 L107.89,333.09 L108.56,333.19 L109.24,333.29 L109.91,333.39 L110.58,333.48 L111.25,333.58 L111.92,333.68 L112.6,333.77 L113.27,333.86 L113.94,333.94 L114.61,334.02 L115.28,334.09 L115.95,334.15 L116.63,334.21 L117.3,334.26 L117.97,334.31 L118.64,334.36 L119.31,334.41 L119.99,334.45 L120.66,334.5 L121.33,334.54 L122,334.58 L122.67,334.62 L123.34,334.65 L124.02,334.69 L124.69,334.73 L125.36,334.76 L126.03,334.8 L126.7,334.83 L127.38,334.87 L128.05,334.91 L128.72,334.94 L129.39,334.98 L130.06,335.01 L130.74,335.05 L131.41,335.09 L132.08,335.13 L132.75,335.17 L133.42,335.22 L134.09,335.26 L134.77,335.31 L135.44,335.35 L136.11,335.4 L136.78,335.46 L137.45,335.51 L138.13,335.57 L138.8,335.63 L139.47,335.7 L140.14,335.78 L140.81,335.87 L141.48,335.96 L142.16,336.05 L142.83,336.15 L143.5,336.25 L144.17,336.36 L144.84,336.46 L145.52,336.56 L146.19,336.66 L146.86,336.76 L147.53,336.85 L148.2,336.93 L148.88,337.01 L149.55,337.09 L150.22,337.15 L150.89,337.21 L151.56,337.27 L152.23,337.33 L152.91,337.38 L153.58,337.44 L154.25,337.49 L154.92,337.54 L155.59,337.59 L156.27,337.63 L156.94,337.67 L157.61,337.72 L158.28,337.75 L158.95,337.79 L159.62,337.82" stroke="#1f6fe0" stroke-dasharray="10 5.2 1.6 5.4" stroke-linejoin="round"/>
<path d="M53,428.17 V412.85" stroke="#ff14ff" stroke-width="2.6"/>
<path d="M52.8,412.85 L53.44,412.85 L54.08,412.82 L54.71,412.78 L55.35,412.72 L55.99,412.64 L56.63,412.55 L57.27,412.44 L57.91,412.31 L58.54,412.16 L59.18,412 L59.82,411.81 L60.46,411.61 L61.1,411.4 L61.74,411.09 L62.37,410.44 L63.01,409.47 L63.65,408.22 L64.29,406.72 L64.93,405.03 L65.57,402.98 L66.2,399.55 L66.84,395.36 L67.48,391.29 L68.12,388.09 L68.76,385.44 L69.39,382.86 L70.03,379.93 L70.67,376.02 L71.31,370.93 L71.95,365.82 L72.59,361.84 L73.22,358.65 L73.86,355.84 L74.5,353.25 L75.14,350.72 L75.78,348.21 L76.42,345.78 L77.05,343.54 L77.69,341.59 L78.33,339.98 L78.97,338.51 L79.61,337.14 L80.25,335.9 L80.88,334.84 L81.52,333.99 L82.16,333.38 L82.8,332.87 L83.44,332.39 L84.07,331.94 L84.71,331.53 L85.35,331.16 L85.99,330.82 L86.63,330.51 L87.27,330.25 L87.9,330.02 L88.54,329.83 L89.18,329.67 L89.82,329.56 L90.46,329.47 L91.1,329.38 L91.73,329.3 L92.37,329.23 L93.01,329.15 L93.65,329.09 L94.29,329.03 L94.93,328.98 L95.56,328.94 L96.2,328.91 L96.84,328.89 L97.48,328.87 L98.12,328.87 L98.75,328.88 L99.39,328.89 L100.03,328.91 L100.67,328.94 L101.31,328.97 L101.95,329.01 L102.58,329.06 L103.22,329.11 L103.86,329.16 L104.5,329.21 L105.14,329.26 L105.78,329.32 L106.41,329.37 L107.05,329.43 L107.69,329.5 L108.33,329.58 L108.97,329.67 L109.61,329.76 L110.24,329.86 L110.88,329.96 L111.52,330.06 L112.16,330.15 L112.8,330.24 L113.43,330.32 L114.07,330.39 L114.71,330.44 L115.35,330.49 L115.99,330.54 L116.63,330.58 L117.26,330.62 L117.9,330.66 L118.54,330.69 L119.18,330.73 L119.82,330.76 L120.46,330.8 L121.09,330.85 L121.73,330.89 L122.37,330.95 L123.01,331.01 L123.65,331.07 L124.29,331.15 L124.92,331.22 L125.56,331.31 L126.2,331.39 L126.84,331.47 L127.48,331.56 L128.11,331.64 L128.75,331.72 L129.39,331.8 L130.03,331.88 L130.67,331.95 L131.31,332.03 L131.94,332.12 L132.58,332.2 L133.22,332.28 L133.86,332.36 L134.5,332.43 L135.14,332.51 L135.77,332.58 L136.41,332.65 L137.05,332.72 L137.69,332.78 L138.33,332.83 L138.97,332.89 L139.6,332.94 L140.24,332.98 L140.88,333.03 L141.52,333.07 L142.16,333.12 L142.8,333.16 L143.43,333.2 L144.07,333.23 L144.71,333.27 L145.35,333.3 L145.99,333.34 L146.62,333.37 L147.26,333.4 L147.9,333.43 L148.54,333.46 L149.18,333.49 L149.82,333.52 L150.45,333.55 L151.09,333.58 L151.73,333.6 L152.37,333.62 L153.01,333.65 L153.65,333.67 L154.28,333.69" stroke="#ff14ff" stroke-dasharray="3 5.2" stroke-linejoin="round"/>
<path d="M53,428.17 V414.06" stroke="#5a0c96" stroke-width="2.6"/>
<path d="M52.8,414.06 L53.47,413.94 L54.14,413.83 L54.82,413.7 L55.49,413.58 L56.16,413.46 L56.83,413.33 L57.5,413.2 L58.17,413.07 L58.85,412.93 L59.52,412.79 L60.19,412.65 L60.86,412.51 L61.53,412.37 L62.21,412.23 L62.88,412.08 L63.55,411.93 L64.22,411.78 L64.89,411.63 L65.57,411.48 L66.24,411.33 L66.91,411.18 L67.58,411.04 L68.25,410.9 L68.92,410.77 L69.6,410.64 L70.27,410.5 L70.94,410.36 L71.61,410.21 L72.28,410.04 L72.96,409.86 L73.63,409.65 L74.3,409.42 L74.97,409.16 L75.64,408.87 L76.31,408.47 L76.99,407.91 L77.66,407.22 L78.33,406.42 L79,405.53 L79.67,404.57 L80.35,403.57 L81.02,402.48 L81.69,401.17 L82.36,399.67 L83.03,398.05 L83.71,396.35 L84.38,394.39 L85.05,392.16 L85.72,390.22 L86.39,388.91 L87.06,387.87 L87.74,386.97 L88.41,386.11 L89.08,385.2 L89.75,384.21 L90.42,383.2 L91.1,382.18 L91.77,381.19 L92.44,380.24 L93.11,379.37 L93.78,378.54 L94.46,377.71 L95.13,376.92 L95.8,376.17 L96.47,375.48 L97.14,374.88 L97.81,374.37 L98.49,373.91 L99.16,373.47 L99.83,373.06 L100.5,372.67 L101.17,372.32 L101.85,372.01 L102.52,371.74 L103.19,371.52 L103.86,371.35 L104.53,371.19 L105.2,371.04 L105.88,370.91 L106.55,370.79 L107.22,370.68 L107.89,370.6 L108.56,370.54 L109.24,370.52 L109.91,370.52 L110.58,370.52 L111.25,370.52 L111.92,370.52 L112.6,370.52 L113.27,370.52 L113.94,370.52 L114.61,370.52 L115.28,370.52 L115.95,370.52 L116.63,370.52 L117.3,370.52 L117.97,370.52 L118.64,370.53 L119.31,370.55 L119.99,370.59 L120.66,370.63 L121.33,370.69 L122,370.76 L122.67,370.84 L123.34,370.92 L124.02,371.01 L124.69,371.09 L125.36,371.18 L126.03,371.27 L126.7,371.36 L127.38,371.44 L128.05,371.52 L128.72,371.6 L129.39,371.67 L130.06,371.75 L130.74,371.82 L131.41,371.9 L132.08,371.98 L132.75,372.06 L133.42,372.14 L134.09,372.22 L134.77,372.31 L135.44,372.39 L136.11,372.48 L136.78,372.56 L137.45,372.65 L138.13,372.74 L138.8,372.83 L139.47,372.93 L140.14,373.03 L140.81,373.13 L141.48,373.24 L142.16,373.34 L142.83,373.45 L143.5,373.55 L144.17,373.64 L144.84,373.73 L145.52,373.8 L146.19,373.88 L146.86,373.95 L147.53,374.02 L148.2,374.09 L148.88,374.16 L149.55,374.23 L150.22,374.29 L150.89,374.36 L151.56,374.42 L152.23,374.48 L152.91,374.54 L153.58,374.6 L154.25,374.65 L154.92,374.71 L155.59,374.76 L156.27,374.8 L156.94,374.85 L157.61,374.89 L158.28,374.93 L158.95,374.96 L159.62,374.99" stroke="#5a0c96" stroke-dasharray="6.8 5.3 1.5 6 1.5 6" stroke-linejoin="round"/>
</g>
<g stroke="#1e1e1e" stroke-width="1.1" fill="none">
<path d="M52.8,254.35 H266.45 V426.45 H52.8 Z"/>
<path stroke-width="1.0" d="M52.8,426.45 v3.5 M52.8,254.35 v3.5 M70.6,426.45 v2 M70.6,254.35 v2 M88.41,426.45 v3.5 M88.41,254.35 v3.5 M106.21,426.45 v2 M106.21,254.35 v2 M124.02,426.45 v3.5 M124.02,254.35 v3.5 M141.82,426.45 v2 M141.82,254.35 v2 M159.62,426.45 v3.5 M159.62,254.35 v3.5 M177.43,426.45 v2 M177.43,254.35 v2 M195.23,426.45 v3.5 M195.23,254.35 v3.5 M213.04,426.45 v2 M213.04,254.35 v2 M230.84,426.45 v3.5 M230.84,254.35 v3.5 M248.65,426.45 v2 M248.65,254.35 v2 M266.45,426.45 v3.5 M266.45,254.35 v3.5 M52.8,426.45 h-3.5 M266.45,426.45 h-3.5 M52.8,409.24 h-2 M266.45,409.24 h-2 M52.8,392.03 h-3.5 M266.45,392.03 h-3.5 M52.8,374.82 h-2 M266.45,374.82 h-2 M52.8,357.61 h-3.5 M266.45,357.61 h-3.5 M52.8,340.4 h-2 M266.45,340.4 h-2 M52.8,323.19 h-3.5 M266.45,323.19 h-3.5 M52.8,305.98 h-2 M266.45,305.98 h-2 M52.8,288.77 h-3.5 M266.45,288.77 h-3.5 M52.8,271.56 h-2 M266.45,271.56 h-2 M52.8,254.35 h-3.5 M266.45,254.35 h-3.5"/>
</g>
<text x="52.8" y="440.75" class="k" text-anchor="middle">0</text>
<text x="88.41" y="440.75" class="k" text-anchor="middle">10</text>
<text x="124.02" y="440.75" class="k" text-anchor="middle">20</text>
<text x="159.62" y="440.75" class="k" text-anchor="middle">30</text>
<text x="195.23" y="440.75" class="k" text-anchor="middle">40</text>
<text x="230.84" y="440.75" class="k" text-anchor="middle">50</text>
<text x="266.45" y="440.75" class="k" text-anchor="middle">60</text>
<text x="47" y="430.25" class="k" text-anchor="end">0</text>
<text x="47" y="395.83" class="k" text-anchor="end">2</text>
<text x="47" y="361.41" class="k" text-anchor="end">4</text>
<text x="47" y="326.99" class="k" text-anchor="end">6</text>
<text x="47" y="292.57" class="k" text-anchor="end">8</text>
<text x="47" y="258.15" class="k" text-anchor="end">10</text>
<text x="159.12" y="457.8" class="ax" text-anchor="middle" textLength="94.4" lengthAdjust="spacingAndGlyphs">Time (minutes)</text>
<text transform="translate(23.6,335.9) rotate(-90)" class="ay" text-anchor="middle" textLength="80" lengthAdjust="spacingAndGlyphs">Torque (Nm)</text>
<rect x="55.3" y="258.1" width="138" height="61.6" fill="#fff" stroke="#a0a0a0" stroke-width="1.2"/>
<path d="M55.6,265 H78.9" stroke="#3a3a3a" stroke-width="2.3"/>
<text x="81" y="268.45" class="lg" textLength="111.64" lengthAdjust="spacingAndGlyphs">SEV/5-ZnO (control-SEV)</text>
<path d="M55.6,276.95 H78.9" stroke="#f0232b" stroke-width="2.3" stroke-dasharray="10 8.2"/>
<text x="81" y="280.4" class="lg" textLength="84.96" lengthAdjust="spacingAndGlyphs">SEV/5-MgO/1-MgO</text>
<path d="M55.6,288.9 H78.9" stroke="#1f6fe0" stroke-width="2.3" stroke-dasharray="11.5 4 3.2 6"/>
<text x="81" y="292.35" class="lg" textLength="84.96" lengthAdjust="spacingAndGlyphs">SEV/5-MgO/2-MgO</text>
<path d="M55.6,300.85 H78.9" stroke="#ff14ff" stroke-width="2.3" stroke-dasharray="5.4 2.8"/>
<text x="81" y="304.3" class="lg" textLength="84.96" lengthAdjust="spacingAndGlyphs">SEV/5-MgO/3-MgO</text>
<path d="M55.6,312.8 H78.9" stroke="#5a0c96" stroke-width="2.3" stroke-dasharray="9 4 3.2 4 3.6 4"/>
<text x="81" y="316.25" class="lg" textLength="52.28" lengthAdjust="spacingAndGlyphs">SEV/5-MgO</text>
<text x="198.35" y="270.25" class="tp">Temp.</text><g transform="translate(266.45,0) scale(0.95,1) translate(-266.45,0)"><text y="270.25" class="tp"><tspan x="228.65">120</tspan><tspan x="250.05" dy="0.9" style="font-size:12.5px">°</tspan><tspan x="254.45" dy="-0.9">C</tspan></text></g>
<text x="277.3" y="248" font-size="17.5" class="t">(d)</text>
<clipPath id="cd"><rect x="322.45" y="254.35" width="213.15" height="172.1"/></clipPath>
<g clip-path="url(#cd)" fill="none" stroke-width="2.5">
<path d="M322.45,420.77 L323.79,421.3 L325.13,421.75 L326.47,422.11 L327.81,422.36 L329.15,422.48 L330.49,422.48 L331.83,422.42 L333.17,422.31 L334.52,422.17 L335.86,421.99 L337.2,421.59 L338.54,420.82 L339.88,419.8 L341.22,418.61 L342.56,416.98 L343.9,414.82 L345.24,411.89 L346.58,407.38 L347.92,400.43 L349.26,390.36 L350.6,377.58 L351.94,364.76 L353.28,355.41 L354.62,349.48 L355.96,345.24 L357.3,342 L358.65,339.37 L359.99,337.32 L361.33,335.6 L362.67,334.15 L364.01,333.05 L365.35,332.3 L366.69,331.7 L368.03,331.21 L369.37,330.79 L370.71,330.41 L372.05,330.05 L373.39,329.7 L374.73,329.37 L376.07,329.07 L377.41,328.79 L378.75,328.53 L380.09,328.3 L381.43,328.09 L382.78,327.92 L384.12,327.78 L385.46,327.65 L386.8,327.53 L388.14,327.42 L389.48,327.31 L390.82,327.21 L392.16,327.12 L393.5,327.03 L394.84,326.95 L396.18,326.87 L397.52,326.79 L398.86,326.72 L400.2,326.65 L401.54,326.59 L402.88,326.52 L404.22,326.46 L405.57,326.4 L406.91,326.34 L408.25,326.28 L409.59,326.22 L410.93,326.15 L412.27,326.09 L413.61,326.03 L414.95,325.96 L416.29,325.9 L417.63,325.84 L418.97,325.78 L420.31,325.72 L421.65,325.67 L422.99,325.62 L424.33,325.57 L425.67,325.53 L427.01,325.5 L428.35,325.47 L429.7,325.45 L431.04,325.43 L432.38,325.43 L433.72,325.43 L435.06,325.43 L436.4,325.44 L437.74,325.45 L439.08,325.47 L440.42,325.49 L441.76,325.51 L443.1,325.53 L444.44,325.55 L445.78,325.58 L447.12,325.6 L448.46,325.63 L449.8,325.66 L451.14,325.69 L452.48,325.72 L453.83,325.75 L455.17,325.78 L456.51,325.81 L457.85,325.84 L459.19,325.87 L460.53,325.9 L461.87,325.92 L463.21,325.94 L464.55,325.97 L465.89,325.99 L467.23,326.01 L468.57,326.04 L469.91,326.06 L471.25,326.09 L472.59,326.11 L473.93,326.13 L475.27,326.16 L476.62,326.18 L477.96,326.2 L479.3,326.23 L480.64,326.25 L481.98,326.27 L483.32,326.3 L484.66,326.32 L486,326.35 L487.34,326.37 L488.68,326.39 L490.02,326.42 L491.36,326.44 L492.7,326.47 L494.04,326.49 L495.38,326.52 L496.72,326.54 L498.06,326.57 L499.4,326.59 L500.75,326.62 L502.09,326.64 L503.43,326.67 L504.77,326.69 L506.11,326.72 L507.45,326.75 L508.79,326.77 L510.13,326.8 L511.47,326.83 L512.81,326.85 L514.15,326.88 L515.49,326.91 L516.83,326.93 L518.17,326.96 L519.51,326.99 L520.85,327.01 L522.19,327.04 L523.53,327.07 L524.88,327.1 L526.22,327.12 L527.56,327.15 L528.9,327.18 L530.24,327.21 L531.58,327.24 L532.92,327.26 L534.26,327.29 L535.6,327.32" stroke="#3a3a3a" stroke-linejoin="round"/>
<path d="M322.65,428.17 V417.84" stroke="#f0232b" stroke-width="2.6"/>
<path d="M322.45,417.84 L323.05,417.81 L323.66,417.71 L324.26,417.54 L324.86,417.3 L325.47,417 L326.07,416.63 L326.67,416.21 L327.28,415.72 L327.88,415.15 L328.48,413.75 L329.09,411.27 L329.69,407.96 L330.29,404.05 L330.9,399.77 L331.5,394.86 L332.1,388.03 L332.71,380.84 L333.31,374.07 L333.91,367.14 L334.52,360.45 L335.12,354.4 L335.72,348.83 L336.32,343.94 L336.93,341.45 L337.53,339.77 L338.13,338.36 L338.74,337.21 L339.34,336.32 L339.94,335.67 L340.55,335.25 L341.15,334.96 L341.75,334.69 L342.36,334.46 L342.96,334.25 L343.56,334.07 L344.17,333.92 L344.77,333.81 L345.37,333.73 L345.98,333.69 L346.58,333.69 L347.18,333.7 L347.79,333.73 L348.39,333.77 L348.99,333.82 L349.6,333.87 L350.2,333.94 L350.8,334.02 L351.41,334.1 L352.01,334.2 L352.61,334.29 L353.22,334.4 L353.82,334.51 L354.42,334.62 L355.03,334.73 L355.63,334.85 L356.23,334.97 L356.84,335.09 L357.44,335.21 L358.04,335.33 L358.65,335.45 L359.25,335.57 L359.85,335.69 L360.46,335.8 L361.06,335.91 L361.66,336.01 L362.26,336.12 L362.87,336.24 L363.47,336.35 L364.07,336.48 L364.68,336.6 L365.28,336.73 L365.88,336.86 L366.49,337 L367.09,337.13 L367.69,337.27 L368.3,337.41 L368.9,337.55 L369.5,337.69 L370.11,337.84 L370.71,337.98 L371.31,338.12 L371.92,338.27 L372.52,338.41 L373.12,338.55 L373.73,338.69 L374.33,338.83 L374.93,338.97 L375.54,339.11 L376.14,339.24 L376.74,339.37 L377.35,339.5 L377.95,339.62 L378.55,339.74 L379.16,339.86 L379.76,339.97 L380.36,340.08 L380.97,340.19 L381.57,340.29 L382.17,340.38 L382.78,340.47 L383.38,340.55 L383.98,340.63 L384.59,340.7 L385.19,340.77 L385.79,340.85 L386.39,340.92 L387,340.98 L387.6,341.05 L388.2,341.11 L388.81,341.18 L389.41,341.24 L390.01,341.3 L390.62,341.36 L391.22,341.42 L391.82,341.47 L392.43,341.53 L393.03,341.58 L393.63,341.63 L394.24,341.69 L394.84,341.74 L395.44,341.78 L396.05,341.83 L396.65,341.88 L397.25,341.93 L397.86,341.97 L398.46,342.02 L399.06,342.06 L399.67,342.1 L400.27,342.15 L400.87,342.19 L401.48,342.23 L402.08,342.27 L402.68,342.31 L403.29,342.35 L403.89,342.39 L404.49,342.43 L405.1,342.47 L405.7,342.51 L406.3,342.55 L406.91,342.59 L407.51,342.62 L408.11,342.66 L408.72,342.7 L409.32,342.73 L409.92,342.76 L410.53,342.8 L411.13,342.83 L411.73,342.86 L412.33,342.89 L412.94,342.92 L413.54,342.95 L414.14,342.98 L414.75,343.01 L415.35,343.03 L415.95,343.06 L416.56,343.09 L417.16,343.11 L417.76,343.13 L418.37,343.15" stroke="#f0232b" stroke-dasharray="9 8" stroke-linejoin="round"/>
<path d="M322.65,428.17 V415.26" stroke="#1f6fe0" stroke-width="2.6"/>
<path d="M322.45,415.26 L323.12,415.26 L323.79,415.25 L324.46,415.23 L325.13,415.21 L325.8,415.18 L326.47,415.14 L327.14,415.08 L327.81,414.36 L328.48,412.75 L329.15,410.47 L329.82,407.46 L330.49,401.65 L331.16,394.51 L331.83,386.24 L332.5,377.21 L333.17,369.06 L333.84,361.35 L334.52,355.27 L335.19,350.23 L335.86,345.96 L336.53,342.77 L337.2,340.54 L337.87,338.54 L338.54,336.88 L339.21,335.73 L339.88,335.23 L340.55,335.09 L341.22,334.97 L341.89,334.86 L342.56,334.76 L343.23,334.68 L343.9,334.6 L344.57,334.54 L345.24,334.49 L345.91,334.45 L346.58,334.42 L347.25,334.4 L347.92,334.38 L348.59,334.38 L349.26,334.38 L349.93,334.41 L350.6,334.45 L351.27,334.51 L351.94,334.58 L352.61,334.66 L353.28,334.76 L353.95,334.86 L354.62,334.97 L355.29,335.09 L355.96,335.21 L356.63,335.34 L357.3,335.47 L357.98,335.6 L358.65,335.72 L359.32,335.85 L359.99,335.97 L360.66,336.1 L361.33,336.24 L362,336.4 L362.67,336.56 L363.34,336.73 L364.01,336.9 L364.68,337.08 L365.35,337.26 L366.02,337.44 L366.69,337.61 L367.36,337.77 L368.03,337.93 L368.7,338.08 L369.37,338.21 L370.04,338.33 L370.71,338.44 L371.38,338.55 L372.05,338.65 L372.72,338.75 L373.39,338.85 L374.06,338.94 L374.73,339.04 L375.4,339.12 L376.07,339.21 L376.74,339.3 L377.41,339.38 L378.08,339.46 L378.75,339.54 L379.42,339.61 L380.09,339.69 L380.76,339.76 L381.43,339.83 L382.11,339.9 L382.78,339.97 L383.45,340.04 L384.12,340.11 L384.79,340.18 L385.46,340.25 L386.13,340.31 L386.8,340.38 L387.47,340.44 L388.14,340.5 L388.81,340.56 L389.48,340.62 L390.15,340.68 L390.82,340.74 L391.49,340.8 L392.16,340.85 L392.83,340.91 L393.5,340.96 L394.17,341.02 L394.84,341.07 L395.51,341.13 L396.18,341.18 L396.85,341.23 L397.52,341.29 L398.19,341.34 L398.86,341.39 L399.53,341.44 L400.2,341.5 L400.87,341.55 L401.54,341.6 L402.21,341.65 L402.88,341.7 L403.55,341.76 L404.22,341.81 L404.89,341.86 L405.57,341.92 L406.24,341.97 L406.91,342.03 L407.58,342.08 L408.25,342.14 L408.92,342.19 L409.59,342.25 L410.26,342.3 L410.93,342.36 L411.6,342.41 L412.27,342.47 L412.94,342.52 L413.61,342.58 L414.28,342.64 L414.95,342.69 L415.62,342.75 L416.29,342.8 L416.96,342.86 L417.63,342.91 L418.3,342.97 L418.97,343.02 L419.64,343.08 L420.31,343.13 L420.98,343.19 L421.65,343.24 L422.32,343.3 L422.99,343.35 L423.66,343.41 L424.33,343.46 L425,343.52 L425.67,343.57 L426.34,343.62 L427.01,343.68 L427.68,343.73 L428.35,343.79 L429.02,343.84" stroke="#1f6fe0" stroke-dasharray="10 5.2 1.6 5.4" stroke-linejoin="round"/>
<path d="M322.65,428.17 V415.26" stroke="#ff14ff" stroke-width="2.6"/>
<path d="M322.45,415.26 L323.09,415.26 L323.73,415.26 L324.37,415.26 L325.01,415.26 L325.66,415.26 L326.3,415.26 L326.94,415.26 L327.58,414.47 L328.22,411.64 L328.86,407.52 L329.5,402.9 L330.14,396.99 L330.79,389.38 L331.43,382.29 L332.07,375.89 L332.71,368.35 L333.35,356.46 L333.99,350.71 L334.63,347.12 L335.27,343.62 L335.92,338.97 L336.56,335.46 L337.2,334.42 L337.84,333.55 L338.48,332.79 L339.12,332.15 L339.76,331.61 L340.4,331.18 L341.05,330.85 L341.69,330.62 L342.33,330.47 L342.97,330.42 L343.61,330.43 L344.25,330.45 L344.89,330.5 L345.53,330.56 L346.18,330.63 L346.82,330.71 L347.46,330.8 L348.1,330.9 L348.74,331.01 L349.38,331.11 L350.02,331.21 L350.66,331.31 L351.31,331.41 L351.95,331.5 L352.59,331.6 L353.23,331.71 L353.87,331.82 L354.51,331.94 L355.15,332.05 L355.79,332.17 L356.44,332.29 L357.08,332.4 L357.72,332.52 L358.36,332.62 L359,332.72 L359.64,332.81 L360.28,332.9 L360.92,332.97 L361.57,333.04 L362.21,333.11 L362.85,333.17 L363.49,333.23 L364.13,333.29 L364.77,333.36 L365.41,333.42 L366.05,333.5 L366.7,333.57 L367.34,333.66 L367.98,333.75 L368.62,333.86 L369.26,333.98 L369.9,334.11 L370.54,334.25 L371.18,334.4 L371.83,334.56 L372.47,334.73 L373.11,334.9 L373.75,335.07 L374.39,335.25 L375.03,335.43 L375.67,335.61 L376.31,335.78 L376.96,335.96 L377.6,336.13 L378.24,336.29 L378.88,336.45 L379.52,336.6 L380.16,336.75 L380.8,336.88 L381.44,337 L382.09,337.11 L382.73,337.2 L383.37,337.28 L384.01,337.35 L384.65,337.41 L385.29,337.47 L385.93,337.53 L386.57,337.58 L387.21,337.63 L387.86,337.68 L388.5,337.73 L389.14,337.77 L389.78,337.81 L390.42,337.85 L391.06,337.89 L391.7,337.93 L392.34,337.97 L392.99,338 L393.63,338.04 L394.27,338.07 L394.91,338.1 L395.55,338.13 L396.19,338.16 L396.83,338.2 L397.47,338.23 L398.12,338.26 L398.76,338.29 L399.4,338.32 L400.04,338.35 L400.68,338.38 L401.32,338.42 L401.96,338.45 L402.6,338.49 L403.25,338.52 L403.89,338.56 L404.53,338.6 L405.17,338.64 L405.81,338.68 L406.45,338.73 L407.09,338.78 L407.73,338.82 L408.38,338.88 L409.02,338.93 L409.66,338.98 L410.3,339.04 L410.94,339.1 L411.58,339.16 L412.22,339.22 L412.86,339.28 L413.51,339.34 L414.15,339.41 L414.79,339.47 L415.43,339.54 L416.07,339.61 L416.71,339.68 L417.35,339.75 L417.99,339.82 L418.64,339.89 L419.28,339.96 L419.92,340.04 L420.56,340.11 L421.2,340.19 L421.84,340.26 L422.48,340.34 L423.12,340.42 L423.77,340.49 L424.41,340.57" stroke="#ff14ff" stroke-dasharray="3 5.2" stroke-linejoin="round"/>
<path d="M322.65,428.17 V414.75" stroke="#5a0c96" stroke-width="2.6"/>
<path d="M322.45,414.75 L323.12,415.09 L323.79,415.35 L324.46,415.53 L325.13,415.65 L325.8,415.73 L326.47,415.76 L327.14,415.78 L327.81,415.78 L328.48,415.58 L329.15,415.05 L329.82,414.26 L330.49,413.24 L331.16,412.05 L331.83,410.76 L332.5,409.4 L333.17,407.88 L333.84,405.73 L334.52,403.21 L335.19,400.59 L335.86,398.19 L336.53,396.09 L337.2,394.09 L337.87,392.15 L338.54,390.21 L339.21,388.23 L339.88,386.15 L340.55,383.99 L341.22,381.89 L341.89,379.95 L342.56,378.26 L343.23,376.56 L343.9,374.93 L344.57,373.56 L345.24,372.63 L345.91,372.23 L346.58,371.94 L347.25,371.68 L347.92,371.45 L348.59,371.26 L349.26,371.1 L349.93,370.98 L350.6,370.9 L351.27,370.87 L351.94,370.87 L352.61,370.9 L353.28,370.96 L353.95,371.05 L354.62,371.16 L355.29,371.3 L355.96,371.45 L356.63,371.61 L357.3,371.78 L357.98,371.97 L358.65,372.15 L359.32,372.34 L359.99,372.53 L360.66,372.71 L361.33,372.89 L362,373.06 L362.67,373.21 L363.34,373.35 L364.01,373.49 L364.68,373.63 L365.35,373.77 L366.02,373.92 L366.69,374.06 L367.36,374.2 L368.03,374.34 L368.7,374.49 L369.37,374.63 L370.04,374.77 L370.71,374.92 L371.38,375.06 L372.05,375.2 L372.72,375.34 L373.39,375.48 L374.06,375.62 L374.73,375.76 L375.4,375.9 L376.07,376.03 L376.74,376.17 L377.41,376.3 L378.08,376.43 L378.75,376.56 L379.42,376.68 L380.09,376.81 L380.76,376.93 L381.43,377.05 L382.11,377.16 L382.78,377.27 L383.45,377.38 L384.12,377.49 L384.79,377.6 L385.46,377.7 L386.13,377.8 L386.8,377.9 L387.47,377.99 L388.14,378.09 L388.81,378.18 L389.48,378.27 L390.15,378.36 L390.82,378.45 L391.49,378.53 L392.16,378.62 L392.83,378.71 L393.5,378.79 L394.17,378.87 L394.84,378.96 L395.51,379.04 L396.18,379.12 L396.85,379.2 L397.52,379.28 L398.19,379.37 L398.86,379.45 L399.53,379.53 L400.2,379.61 L400.87,379.7 L401.54,379.78 L402.21,379.87 L402.88,379.96 L403.55,380.04 L404.22,380.13 L404.89,380.22 L405.57,380.31 L406.24,380.41 L406.91,380.5 L407.58,380.6 L408.25,380.7 L408.92,380.8 L409.59,380.92 L410.26,381.03 L410.93,381.15 L411.6,381.27 L412.27,381.38 L412.94,381.5 L413.61,381.61 L414.28,381.71 L414.95,381.8 L415.62,381.89 L416.29,381.97 L416.96,382.04 L417.63,382.12 L418.3,382.2 L418.97,382.27 L419.64,382.34 L420.31,382.41 L420.98,382.48 L421.65,382.55 L422.32,382.61 L422.99,382.67 L423.66,382.73 L424.33,382.79 L425,382.84 L425.67,382.89 L426.34,382.93 L427.01,382.98 L427.68,383.02 L428.35,383.05 L429.02,383.08" stroke="#5a0c96" stroke-dasharray="6.8 5.3 1.5 6 1.5 6" stroke-linejoin="round"/>
</g>
<g stroke="#1e1e1e" stroke-width="1.1" fill="none">
<path d="M322.45,254.35 H535.6 V426.45 H322.45 Z"/>
<path stroke-width="1.0" d="M322.45,426.45 v3.5 M322.45,254.35 v3.5 M340.21,426.45 v2 M340.21,254.35 v2 M357.98,426.45 v3.5 M357.98,254.35 v3.5 M375.74,426.45 v2 M375.74,254.35 v2 M393.5,426.45 v3.5 M393.5,254.35 v3.5 M411.26,426.45 v2 M411.26,254.35 v2 M429.02,426.45 v3.5 M429.02,254.35 v3.5 M446.79,426.45 v2 M446.79,254.35 v2 M464.55,426.45 v3.5 M464.55,254.35 v3.5 M482.31,426.45 v2 M482.31,254.35 v2 M500.08,426.45 v3.5 M500.08,254.35 v3.5 M517.84,426.45 v2 M517.84,254.35 v2 M535.6,426.45 v3.5 M535.6,254.35 v3.5 M322.45,426.45 h-3.5 M535.6,426.45 h-3.5 M322.45,409.24 h-2 M535.6,409.24 h-2 M322.45,392.03 h-3.5 M535.6,392.03 h-3.5 M322.45,374.82 h-2 M535.6,374.82 h-2 M322.45,357.61 h-3.5 M535.6,357.61 h-3.5 M322.45,340.4 h-2 M535.6,340.4 h-2 M322.45,323.19 h-3.5 M535.6,323.19 h-3.5 M322.45,305.98 h-2 M535.6,305.98 h-2 M322.45,288.77 h-3.5 M535.6,288.77 h-3.5 M322.45,271.56 h-2 M535.6,271.56 h-2 M322.45,254.35 h-3.5 M535.6,254.35 h-3.5"/>
</g>
<text x="322.45" y="440.75" class="k" text-anchor="middle">0</text>
<text x="357.98" y="440.75" class="k" text-anchor="middle">10</text>
<text x="393.5" y="440.75" class="k" text-anchor="middle">20</text>
<text x="429.02" y="440.75" class="k" text-anchor="middle">30</text>
<text x="464.55" y="440.75" class="k" text-anchor="middle">40</text>
<text x="500.08" y="440.75" class="k" text-anchor="middle">50</text>
<text x="535.6" y="440.75" class="k" text-anchor="middle">60</text>
<text x="316.65" y="430.25" class="k" text-anchor="end">0</text>
<text x="316.65" y="395.83" class="k" text-anchor="end">2</text>
<text x="316.65" y="361.41" class="k" text-anchor="end">4</text>
<text x="316.65" y="326.99" class="k" text-anchor="end">6</text>
<text x="316.65" y="292.57" class="k" text-anchor="end">8</text>
<text x="316.65" y="258.15" class="k" text-anchor="end">10</text>
<text x="428.52" y="459.8" class="ax" text-anchor="middle" textLength="94.4" lengthAdjust="spacingAndGlyphs">Time (minutes)</text>
<text transform="translate(293.25,337.4) rotate(-90)" class="ay" text-anchor="middle" textLength="80" lengthAdjust="spacingAndGlyphs">Torque (Nm)</text>
<rect x="326.1" y="259.3" width="138" height="61.6" fill="#fff" stroke="#a0a0a0" stroke-width="1.2"/>
<path d="M326.4,266.2 H349.7" stroke="#3a3a3a" stroke-width="2.3"/>
<text x="351.8" y="269.65" class="lg" textLength="111.64" lengthAdjust="spacingAndGlyphs">SEV/5-ZnO (control-SEV)</text>
<path d="M326.4,278.15 H349.7" stroke="#f0232b" stroke-width="2.3" stroke-dasharray="10 8.2"/>
<text x="351.8" y="281.6" class="lg" textLength="82.78" lengthAdjust="spacingAndGlyphs">SEV/5-ZnO/1-MgO</text>
<path d="M326.4,290.1 H349.7" stroke="#1f6fe0" stroke-width="2.3" stroke-dasharray="11.5 4 3.2 6"/>
<text x="351.8" y="293.55" class="lg" textLength="82.78" lengthAdjust="spacingAndGlyphs">SEV/5-ZnO/2-MgO</text>
<path d="M326.4,302.05 H349.7" stroke="#ff14ff" stroke-width="2.3" stroke-dasharray="5.4 2.8"/>
<text x="351.8" y="305.5" class="lg" textLength="82.78" lengthAdjust="spacingAndGlyphs">SEV/5-ZnO/3-MgO</text>
<path d="M326.4,314 H349.7" stroke="#5a0c96" stroke-width="2.3" stroke-dasharray="9 4 3.2 4 3.6 4"/>
<text x="351.8" y="317.45" class="lg" textLength="52.28" lengthAdjust="spacingAndGlyphs">SEV/5-MgO</text>
<text x="467.5" y="270.25" class="tp">Temp.</text><g transform="translate(535.6,0) scale(0.95,1) translate(-535.6,0)"><text y="270.25" class="tp"><tspan x="497.8">130</tspan><tspan x="519.2" dy="0.9" style="font-size:12.5px">°</tspan><tspan x="523.6" dy="-0.9">C</tspan></text></g>
<text x="142.6" y="480.8" font-size="17.5" class="t">(e)</text>
<clipPath id="ce"><rect x="187.55" y="482.45" width="213.45" height="172"/></clipPath>
<g clip-path="url(#ce)" fill="none" stroke-width="2.5">
<path d="M187.55,648.77 L188.89,649.45 L190.23,650.03 L191.58,650.49 L192.92,650.77 L194.26,650.84 L195.6,650.8 L196.95,650.71 L198.29,650.59 L199.63,650.42 L200.97,650.19 L202.32,649.62 L203.66,648.74 L205,647.62 L206.34,645.9 L207.69,643.24 L209.03,639.61 L210.37,634 L211.71,624.24 L213.06,613.43 L214.4,602.71 L215.74,592.63 L217.08,585.9 L218.43,581.24 L219.77,577.71 L221.11,575.14 L222.45,573.18 L223.8,571.56 L225.14,570.3 L226.48,569.35 L227.82,568.59 L229.17,567.96 L230.51,567.39 L231.85,566.83 L233.19,566.27 L234.54,565.74 L235.88,565.25 L237.22,564.78 L238.56,564.31 L239.91,563.88 L241.25,563.5 L242.59,563.21 L243.93,562.97 L245.28,562.74 L246.62,562.53 L247.96,562.34 L249.3,562.17 L250.65,562.01 L251.99,561.86 L253.33,561.72 L254.67,561.59 L256.02,561.47 L257.36,561.35 L258.7,561.24 L260.04,561.14 L261.38,561.04 L262.73,560.96 L264.07,560.9 L265.41,560.84 L266.75,560.79 L268.1,560.74 L269.44,560.69 L270.78,560.64 L272.12,560.6 L273.47,560.56 L274.81,560.53 L276.15,560.5 L277.49,560.48 L278.84,560.46 L280.18,560.45 L281.52,560.44 L282.86,560.44 L284.21,560.43 L285.55,560.42 L286.89,560.41 L288.23,560.41 L289.58,560.4 L290.92,560.4 L292.26,560.39 L293.6,560.39 L294.95,560.38 L296.29,560.38 L297.63,560.38 L298.97,560.37 L300.32,560.37 L301.66,560.37 L303,560.37 L304.34,560.37 L305.69,560.37 L307.03,560.37 L308.37,560.37 L309.71,560.37 L311.06,560.37 L312.4,560.37 L313.74,560.37 L315.08,560.37 L316.43,560.37 L317.77,560.37 L319.11,560.37 L320.45,560.37 L321.8,560.37 L323.14,560.37 L324.48,560.37 L325.82,560.37 L327.17,560.37 L328.51,560.37 L329.85,560.37 L331.19,560.37 L332.53,560.37 L333.88,560.37 L335.22,560.37 L336.56,560.37 L337.9,560.37 L339.25,560.37 L340.59,560.37 L341.93,560.37 L343.27,560.37 L344.62,560.37 L345.96,560.37 L347.3,560.37 L348.64,560.37 L349.99,560.37 L351.33,560.37 L352.67,560.37 L354.01,560.37 L355.36,560.37 L356.7,560.37 L358.04,560.37 L359.38,560.37 L360.73,560.37 L362.07,560.37 L363.41,560.37 L364.75,560.37 L366.1,560.37 L367.44,560.37 L368.78,560.37 L370.12,560.37 L371.47,560.37 L372.81,560.37 L374.15,560.37 L375.49,560.37 L376.84,560.37 L378.18,560.37 L379.52,560.37 L380.86,560.37 L382.21,560.37 L383.55,560.37 L384.89,560.37 L386.23,560.37 L387.58,560.37 L388.92,560.37 L390.26,560.37 L391.6,560.37 L392.95,560.37 L394.29,560.37 L395.63,560.37 L396.97,560.37 L398.32,560.37 L399.66,560.37 L401,560.37" stroke="#3a3a3a" stroke-linejoin="round"/>
<path d="M187.75,656.17 V645.85" stroke="#f0232b" stroke-width="2.6"/>
<path d="M187.55,645.85 L188.89,646.29 L190.23,646.54 L191.58,646.67 L192.92,646.71 L194.26,646.64 L195.6,645 L196.95,641.75 L198.29,637.52 L199.63,629.88 L200.97,618.7 L202.32,603.44 L203.66,588.75 L205,578.72 L206.34,571.78 L207.69,566.66 L209.03,565.65 L210.37,565.33 L211.71,565.09 L213.06,564.91 L214.4,564.78 L215.74,564.71 L217.08,564.67 L218.43,564.69 L219.77,564.84 L221.11,565.11 L222.45,565.45 L223.8,565.83 L225.14,566.21 L226.48,566.55 L227.82,566.8 L229.17,567.03 L230.51,567.24 L231.85,567.44 L233.19,567.64 L234.54,567.83 L235.88,568.01 L237.22,568.18 L238.56,568.35 L239.91,568.52 L241.25,568.69 L242.59,568.85 L243.93,569.02 L245.28,569.18 L246.62,569.35 L247.96,569.52 L249.3,569.7 L250.65,569.88 L251.99,570.07 L253.33,570.27 L254.67,570.47 L256.02,570.69 L257.36,570.93 L258.7,571.19 L260.04,571.45 L261.38,571.73 L262.73,572.02 L264.07,572.31 L265.41,572.6 L266.75,572.89 L268.1,573.17 L269.44,573.44 L270.78,573.71 L272.12,573.95 L273.47,574.18 L274.81,574.39 L276.15,574.58 L277.49,574.74 L278.84,574.87 L280.18,574.99 L281.52,575.11 L282.86,575.22 L284.21,575.33 L285.55,575.44 L286.89,575.54 L288.23,575.64 L289.58,575.74 L290.92,575.83 L292.26,575.92 L293.6,576 L294.95,576.08 L296.29,576.15 L297.63,576.22 L298.97,576.28 L300.32,576.34 L301.66,576.39 L303,576.44 L304.34,576.48 L305.69,576.52 L307.03,576.55 L308.37,576.58 L309.71,576.6 L311.06,576.63 L312.4,576.65 L313.74,576.67 L315.08,576.69 L316.43,576.71 L317.77,576.72 L319.11,576.74 L320.45,576.75 L321.8,576.77 L323.14,576.78 L324.48,576.79 L325.82,576.81 L327.17,576.82 L328.51,576.83 L329.85,576.84 L331.19,576.86 L332.53,576.87 L333.88,576.89 L335.22,576.91 L336.56,576.93 L337.9,576.95 L339.25,576.97 L340.59,576.99 L341.93,577.02 L343.27,577.05 L344.62,577.08 L345.96,577.12 L347.3,577.17 L348.64,577.23 L349.99,577.29 L351.33,577.35 L352.67,577.42 L354.01,577.49 L355.36,577.55 L356.7,577.62 L358.04,577.69 L359.38,577.76 L360.73,577.83 L362.07,577.89 L363.41,577.95 L364.75,578 L366.1,578.06 L367.44,578.12 L368.78,578.17 L370.12,578.23 L371.47,578.29 L372.81,578.34 L374.15,578.4 L375.49,578.45 L376.84,578.51 L378.18,578.56 L379.52,578.62 L380.86,578.67 L382.21,578.73 L383.55,578.78 L384.89,578.83 L386.23,578.89 L387.58,578.94 L388.92,578.99 L390.26,579.05 L391.6,579.1 L392.95,579.15 L394.29,579.2 L395.63,579.26 L396.97,579.31 L398.32,579.36 L399.66,579.41 L401,579.46" stroke="#f0232b" stroke-dasharray="9 8" stroke-linejoin="round"/>
<path d="M187.75,656.17 V644.99" stroke="#1f6fe0" stroke-width="2.6"/>
<path d="M187.55,644.99 L188.89,645.09 L190.23,645.14 L191.58,645.16 L192.92,645.16 L194.26,643.07 L195.6,636.3 L196.95,622.11 L198.29,605.94 L199.63,594.38 L200.97,586 L202.32,576.86 L203.66,570.24 L205,567.19 L206.34,565.4 L207.69,564.76 L209.03,564.32 L210.37,564.05 L211.71,563.98 L213.06,564.1 L214.4,564.36 L215.74,564.68 L217.08,565.02 L218.43,565.33 L219.77,565.67 L221.11,566.05 L222.45,566.44 L223.8,566.83 L225.14,567.21 L226.48,567.55 L227.82,567.85 L229.17,568.13 L230.51,568.4 L231.85,568.67 L233.19,568.92 L234.54,569.17 L235.88,569.41 L237.22,569.64 L238.56,569.86 L239.91,570.08 L241.25,570.29 L242.59,570.5 L243.93,570.7 L245.28,570.9 L246.62,571.09 L247.96,571.28 L249.3,571.47 L250.65,571.65 L251.99,571.83 L253.33,572 L254.67,572.17 L256.02,572.34 L257.36,572.5 L258.7,572.65 L260.04,572.8 L261.38,572.95 L262.73,573.09 L264.07,573.23 L265.41,573.37 L266.75,573.51 L268.1,573.64 L269.44,573.77 L270.78,573.91 L272.12,574.04 L273.47,574.17 L274.81,574.29 L276.15,574.42 L277.49,574.54 L278.84,574.66 L280.18,574.78 L281.52,574.89 L282.86,575 L284.21,575.11 L285.55,575.21 L286.89,575.32 L288.23,575.41 L289.58,575.51 L290.92,575.6 L292.26,575.68 L293.6,575.76 L294.95,575.84 L296.29,575.92 L297.63,575.99 L298.97,576.07 L300.32,576.14 L301.66,576.21 L303,576.27 L304.34,576.34 L305.69,576.4 L307.03,576.46 L308.37,576.52 L309.71,576.58 L311.06,576.64 L312.4,576.7 L313.74,576.76 L315.08,576.82 L316.43,576.87 L317.77,576.93 L319.11,576.99 L320.45,577.04 L321.8,577.1 L323.14,577.16 L324.48,577.21 L325.82,577.26 L327.17,577.32 L328.51,577.37 L329.85,577.42 L331.19,577.47 L332.53,577.52 L333.88,577.57 L335.22,577.62 L336.56,577.67 L337.9,577.72 L339.25,577.77 L340.59,577.82 L341.93,577.87 L343.27,577.91 L344.62,577.96 L345.96,578.01 L347.3,578.06 L348.64,578.1 L349.99,578.15 L351.33,578.2 L352.67,578.25 L354.01,578.29 L355.36,578.34 L356.7,578.39 L358.04,578.43 L359.38,578.48 L360.73,578.53 L362.07,578.58 L363.41,578.63 L364.75,578.68 L366.1,578.73 L367.44,578.77 L368.78,578.82 L370.12,578.87 L371.47,578.92 L372.81,578.97 L374.15,579.02 L375.49,579.06 L376.84,579.11 L378.18,579.16 L379.52,579.21 L380.86,579.26 L382.21,579.31 L383.55,579.35 L384.89,579.4 L386.23,579.45 L387.58,579.5 L388.92,579.55 L390.26,579.59 L391.6,579.64 L392.95,579.69 L394.29,579.74 L395.63,579.78 L396.97,579.83 L398.32,579.88 L399.66,579.93 L401,579.97" stroke="#1f6fe0" stroke-dasharray="10 5.2 1.6 5.4" stroke-linejoin="round"/>
<path d="M187.75,656.17 V642.07" stroke="#ff14ff" stroke-width="2.6"/>
<path d="M187.55,642.07 L188.89,643.99 L190.23,644.89 L191.58,645.15 L192.92,644.94 L194.26,642.67 L195.6,638.75 L196.95,629.31 L198.29,616.25 L199.63,601.74 L200.97,588.08 L202.32,575.51 L203.66,567.43 L205,564.05 L206.34,562.13 L207.69,560.75 L209.03,559.99 L210.37,559.86 L211.71,559.99 L213.06,560.22 L214.4,560.54 L215.74,560.89 L217.08,561.23 L218.43,561.55 L219.77,561.9 L221.11,562.29 L222.45,562.7 L223.8,563.13 L225.14,563.57 L226.48,564.01 L227.82,564.43 L229.17,564.83 L230.51,565.2 L231.85,565.52 L233.19,565.79 L234.54,566.01 L235.88,566.2 L237.22,566.38 L238.56,566.54 L239.91,566.69 L241.25,566.83 L242.59,566.97 L243.93,567.1 L245.28,567.23 L246.62,567.37 L247.96,567.52 L249.3,567.67 L250.65,567.83 L251.99,567.99 L253.33,568.15 L254.67,568.31 L256.02,568.48 L257.36,568.64 L258.7,568.81 L260.04,568.97 L261.38,569.14 L262.73,569.3 L264.07,569.47 L265.41,569.63 L266.75,569.79 L268.1,569.95 L269.44,570.1 L270.78,570.25 L272.12,570.4 L273.47,570.55 L274.81,570.69 L276.15,570.82 L277.49,570.96 L278.84,571.08 L280.18,571.21 L281.52,571.33 L282.86,571.46 L284.21,571.58 L285.55,571.7 L286.89,571.82 L288.23,571.94 L289.58,572.06 L290.92,572.17 L292.26,572.28 L293.6,572.39 L294.95,572.5 L296.29,572.6 L297.63,572.7 L298.97,572.8 L300.32,572.89 L301.66,572.98 L303,573.07 L304.34,573.15 L305.69,573.23 L307.03,573.3 L308.37,573.37 L309.71,573.45 L311.06,573.51 L312.4,573.58 L313.74,573.65 L315.08,573.71 L316.43,573.77 L317.77,573.83 L319.11,573.89 L320.45,573.95 L321.8,574 L323.14,574.06 L324.48,574.11 L325.82,574.16 L327.17,574.21 L328.51,574.26 L329.85,574.31 L331.19,574.35 L332.53,574.4 L333.88,574.44 L335.22,574.48 L336.56,574.52 L337.9,574.56 L339.25,574.6 L340.59,574.64 L341.93,574.67 L343.27,574.71 L344.62,574.74 L345.96,574.77 L347.3,574.81 L348.64,574.84 L349.99,574.87 L351.33,574.9 L352.67,574.93 L354.01,574.96 L355.36,574.99 L356.7,575.02 L358.04,575.05 L359.38,575.08 L360.73,575.11 L362.07,575.15 L363.41,575.18 L364.75,575.21 L366.1,575.24 L367.44,575.27 L368.78,575.3 L370.12,575.33 L371.47,575.37 L372.81,575.4 L374.15,575.43 L375.49,575.46 L376.84,575.49 L378.18,575.52 L379.52,575.55 L380.86,575.58 L382.21,575.61 L383.55,575.64 L384.89,575.67 L386.23,575.7 L387.58,575.73 L388.92,575.76 L390.26,575.79 L391.6,575.82 L392.95,575.85 L394.29,575.88 L395.63,575.9 L396.97,575.93 L398.32,575.96 L399.66,575.99 L401,576.02" stroke="#ff14ff" stroke-dasharray="3 5.2" stroke-linejoin="round"/>
<path d="M187.75,656.17 V645.16" stroke="#5a0c96" stroke-width="2.6"/>
<path d="M187.55,645.16 L188.89,645.82 L190.23,646.25 L191.58,646.52 L192.92,646.65 L194.26,646.7 L195.6,646.71 L196.95,645.68 L198.29,643.12 L199.63,639.7 L200.97,636.12 L202.32,632.34 L203.66,627.82 L205,623.15 L206.34,618.51 L207.69,613.78 L209.03,608.75 L210.37,603.27 L211.71,600.58 L213.06,599.59 L214.4,598.8 L215.74,598.2 L217.08,597.79 L218.43,597.56 L219.77,597.52 L221.11,597.58 L222.45,597.69 L223.8,597.85 L225.14,598.06 L226.48,598.29 L227.82,598.55 L229.17,598.82 L230.51,599.1 L231.85,599.36 L233.19,599.64 L234.54,599.97 L235.88,600.33 L237.22,600.71 L238.56,601.09 L239.91,601.45 L241.25,601.78 L242.59,602.1 L243.93,602.41 L245.28,602.72 L246.62,603.03 L247.96,603.33 L249.3,603.63 L250.65,603.91 L251.99,604.18 L253.33,604.45 L254.67,604.7 L256.02,604.93 L257.36,605.16 L258.7,605.38 L260.04,605.59 L261.38,605.8 L262.73,606 L264.07,606.2 L265.41,606.39 L266.75,606.58 L268.1,606.76 L269.44,606.95 L270.78,607.13 L272.12,607.31 L273.47,607.5 L274.81,607.69 L276.15,607.88 L277.49,608.07 L278.84,608.27 L280.18,608.46 L281.52,608.66 L282.86,608.86 L284.21,609.06 L285.55,609.26 L286.89,609.46 L288.23,609.66 L289.58,609.86 L290.92,610.06 L292.26,610.26 L293.6,610.46 L294.95,610.66 L296.29,610.86 L297.63,611.06 L298.97,611.25 L300.32,611.45 L301.66,611.64 L303,611.83 L304.34,612.03 L305.69,612.21 L307.03,612.4 L308.37,612.59 L309.71,612.78 L311.06,612.97 L312.4,613.16 L313.74,613.34 L315.08,613.53 L316.43,613.72 L317.77,613.91 L319.11,614.09 L320.45,614.27 L321.8,614.46 L323.14,614.64 L324.48,614.82 L325.82,614.99 L327.17,615.16 L328.51,615.33 L329.85,615.5 L331.19,615.67 L332.53,615.83 L333.88,615.98 L335.22,616.14 L336.56,616.29 L337.9,616.44 L339.25,616.59 L340.59,616.73 L341.93,616.88 L343.27,617.02 L344.62,617.16 L345.96,617.3 L347.3,617.43 L348.64,617.57 L349.99,617.7 L351.33,617.83 L352.67,617.96 L354.01,618.09 L355.36,618.21 L356.7,618.33 L358.04,618.45 L359.38,618.57 L360.73,618.69 L362.07,618.8 L363.41,618.92 L364.75,619.03 L366.1,619.14 L367.44,619.26 L368.78,619.37 L370.12,619.48 L371.47,619.59 L372.81,619.7 L374.15,619.81 L375.49,619.92 L376.84,620.02 L378.18,620.12 L379.52,620.22 L380.86,620.32 L382.21,620.41 L383.55,620.5 L384.89,620.58 L386.23,620.66 L387.58,620.74 L388.92,620.81 L390.26,620.87 L391.6,620.93 L392.95,620.99 L394.29,621.04 L395.63,621.09 L396.97,621.14 L398.32,621.18 L399.66,621.22 L401,621.25" stroke="#5a0c96" stroke-dasharray="6.8 5.3 1.5 6 1.5 6" stroke-linejoin="round"/>
</g>
<g stroke="#1e1e1e" stroke-width="1.1" fill="none">
<path d="M187.55,482.45 H401 V654.45 H187.55 Z"/>
<path stroke-width="1.0" d="M187.55,654.45 v3.5 M187.55,482.45 v3.5 M205.34,654.45 v2 M205.34,482.45 v2 M223.12,654.45 v3.5 M223.12,482.45 v3.5 M240.91,654.45 v2 M240.91,482.45 v2 M258.7,654.45 v3.5 M258.7,482.45 v3.5 M276.49,654.45 v2 M276.49,482.45 v2 M294.27,654.45 v3.5 M294.27,482.45 v3.5 M312.06,654.45 v2 M312.06,482.45 v2 M329.85,654.45 v3.5 M329.85,482.45 v3.5 M347.64,654.45 v2 M347.64,482.45 v2 M365.42,654.45 v3.5 M365.42,482.45 v3.5 M383.21,654.45 v2 M383.21,482.45 v2 M401,654.45 v3.5 M401,482.45 v3.5 M187.55,654.45 h-3.5 M401,654.45 h-3.5 M187.55,637.25 h-2 M401,637.25 h-2 M187.55,620.05 h-3.5 M401,620.05 h-3.5 M187.55,602.85 h-2 M401,602.85 h-2 M187.55,585.65 h-3.5 M401,585.65 h-3.5 M187.55,568.45 h-2 M401,568.45 h-2 M187.55,551.25 h-3.5 M401,551.25 h-3.5 M187.55,534.05 h-2 M401,534.05 h-2 M187.55,516.85 h-3.5 M401,516.85 h-3.5 M187.55,499.65 h-2 M401,499.65 h-2 M187.55,482.45 h-3.5 M401,482.45 h-3.5"/>
</g>
<text x="187.55" y="668.75" class="k" text-anchor="middle">0</text>
<text x="223.12" y="668.75" class="k" text-anchor="middle">5</text>
<text x="258.7" y="668.75" class="k" text-anchor="middle">10</text>
<text x="294.27" y="668.75" class="k" text-anchor="middle">15</text>
<text x="329.85" y="668.75" class="k" text-anchor="middle">20</text>
<text x="365.42" y="668.75" class="k" text-anchor="middle">25</text>
<text x="401" y="668.75" class="k" text-anchor="middle">30</text>
<text x="181.75" y="658.25" class="k" text-anchor="end">0</text>
<text x="181.75" y="623.85" class="k" text-anchor="end">2</text>
<text x="181.75" y="589.45" class="k" text-anchor="end">4</text>
<text x="181.75" y="555.05" class="k" text-anchor="end">6</text>
<text x="181.75" y="520.65" class="k" text-anchor="end">8</text>
<text x="181.75" y="486.25" class="k" text-anchor="end">10</text>
<text x="293.77" y="686.2" class="ax" text-anchor="middle" textLength="94.4" lengthAdjust="spacingAndGlyphs">Time (minutes)</text>
<text transform="translate(158.35,564.4) rotate(-90)" class="ay" text-anchor="middle" textLength="80" lengthAdjust="spacingAndGlyphs">Torque (Nm)</text>
<rect x="190.9" y="487.7" width="138" height="61.6" fill="#fff" stroke="#a0a0a0" stroke-width="1.2"/>
<path d="M191.2,494.6 H214.5" stroke="#3a3a3a" stroke-width="2.3"/>
<text x="216.6" y="498.05" class="lg" textLength="111.64" lengthAdjust="spacingAndGlyphs">SEV/5-ZnO (control-SEV)</text>
<path d="M191.2,506.55 H214.5" stroke="#f0232b" stroke-width="2.3" stroke-dasharray="10 8.2"/>
<text x="216.6" y="510" class="lg" textLength="82.78" lengthAdjust="spacingAndGlyphs">SEV/5-ZnO/1-MgO</text>
<path d="M191.2,518.5 H214.5" stroke="#1f6fe0" stroke-width="2.3" stroke-dasharray="11.5 4 3.2 6"/>
<text x="216.6" y="521.95" class="lg" textLength="82.78" lengthAdjust="spacingAndGlyphs">SEV/5-ZnO/2-MgO</text>
<path d="M191.2,530.45 H214.5" stroke="#ff14ff" stroke-width="2.3" stroke-dasharray="5.4 2.8"/>
<text x="216.6" y="533.9" class="lg" textLength="82.78" lengthAdjust="spacingAndGlyphs">SEV/5-ZnO/3-MgO</text>
<path d="M191.2,542.4 H214.5" stroke="#5a0c96" stroke-width="2.3" stroke-dasharray="9 4 3.2 4 3.6 4"/>
<text x="216.6" y="545.85" class="lg" textLength="52.28" lengthAdjust="spacingAndGlyphs">SEV/5-MgO</text>
<text x="332.9" y="498.35" class="tp">Temp.</text><g transform="translate(401,0) scale(0.95,1) translate(-401,0)"><text y="498.35" class="tp"><tspan x="363.2">140</tspan><tspan x="384.6" dy="0.9" style="font-size:12.5px">°</tspan><tspan x="389" dy="-0.9">C</tspan></text></g>
</svg>
</body></html>
